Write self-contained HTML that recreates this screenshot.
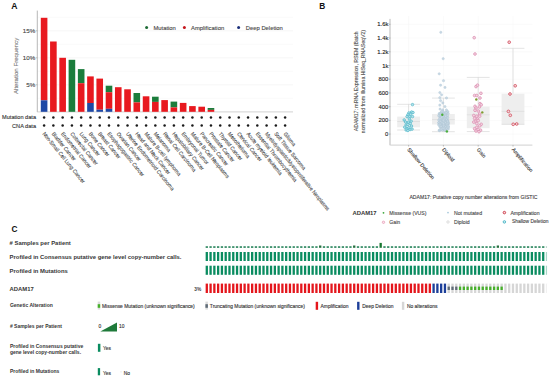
<!DOCTYPE html>
<html><head><meta charset="utf-8"><style>
html,body{margin:0;padding:0;background:#fff;}
body{width:550px;height:379px;overflow:hidden;}
svg{display:block;}
text{font-family:"Liberation Sans",sans-serif;}
</style></head><body>
<svg width="550" height="379" viewBox="0 0 550 379">
<rect width="550" height="379" fill="#fff"/>
<text x="11.2" y="9.4" font-size="8.6" fill="#111" text-anchor="start" font-weight="bold" >A</text>
<line x1="37.3" y1="17.3" x2="293" y2="17.3" stroke="#f5f5f5" stroke-width="0.5" />
<line x1="37.3" y1="30.8" x2="293" y2="30.8" stroke="#eeeeee" stroke-width="0.5" />
<line x1="37.3" y1="44.3" x2="293" y2="44.3" stroke="#f5f5f5" stroke-width="0.5" />
<line x1="37.3" y1="57.8" x2="293" y2="57.8" stroke="#eeeeee" stroke-width="0.5" />
<line x1="37.3" y1="71.3" x2="293" y2="71.3" stroke="#f5f5f5" stroke-width="0.5" />
<line x1="37.3" y1="84.8" x2="293" y2="84.8" stroke="#eeeeee" stroke-width="0.5" />
<line x1="37.3" y1="98.3" x2="293" y2="98.3" stroke="#f5f5f5" stroke-width="0.5" />
<line x1="37.3" y1="10.6" x2="37.3" y2="112.1" stroke="#9a9a9a" stroke-width="0.7" />
<line x1="37.3" y1="111.9" x2="293" y2="111.9" stroke="#c8c8c8" stroke-width="0.8" />
<line x1="35.6" y1="30.8" x2="37.3" y2="30.8" stroke="#9a9a9a" stroke-width="0.6" />
<text x="35.2" y="33.4" font-size="6.2" fill="#484848" text-anchor="end" stroke="#484848" stroke-width="0.12" >15%</text>
<line x1="35.6" y1="57.8" x2="37.3" y2="57.8" stroke="#9a9a9a" stroke-width="0.6" />
<text x="35.2" y="60.4" font-size="6.2" fill="#484848" text-anchor="end" stroke="#484848" stroke-width="0.12" >10%</text>
<line x1="35.6" y1="84.8" x2="37.3" y2="84.8" stroke="#9a9a9a" stroke-width="0.6" />
<text x="35.2" y="87.4" font-size="6.2" fill="#484848" text-anchor="end" stroke="#484848" stroke-width="0.12" >5%</text>
<text x="0" y="0" font-size="6.1" fill="#7a7a7a" text-anchor="middle" stroke="#7a7a7a" stroke-width="0.12" transform="translate(17.8,65.9) rotate(-90)">Alteration Frequency</text>
<circle cx="146.60" cy="27.60" r="1.5" fill="#1d6b35" stroke="none" stroke-width="0.5"/>
<text x="153.4" y="29.7" font-size="5.85" fill="#484848" text-anchor="start" stroke="#484848" stroke-width="0.12" >Mutation</text>
<circle cx="184.40" cy="27.60" r="1.5" fill="#c4161c" stroke="none" stroke-width="0.5"/>
<text x="191.0" y="29.7" font-size="5.85" fill="#484848" text-anchor="start" stroke="#484848" stroke-width="0.12" >Amplification</text>
<circle cx="238.60" cy="27.60" r="1.5" fill="#1b2f7a" stroke="none" stroke-width="0.5"/>
<text x="245.8" y="29.7" font-size="5.85" fill="#484848" text-anchor="start" stroke="#484848" stroke-width="0.12" >Deep Deletion</text>
<rect x="40.80" y="17.80" width="6.60" height="82.50" fill="#e8191f" />
<rect x="40.80" y="100.30" width="6.60" height="11.50" fill="#1e48a5" />
<rect x="50.07" y="41.50" width="6.60" height="70.30" fill="#e8191f" />
<rect x="59.34" y="57.80" width="6.60" height="54.00" fill="#e8191f" />
<rect x="68.61" y="59.80" width="6.60" height="52.00" fill="#1b7d3c" />
<rect x="77.88" y="69.10" width="6.60" height="14.10" fill="#1b7d3c" />
<rect x="77.88" y="83.20" width="6.60" height="28.60" fill="#e8191f" />
<rect x="87.15" y="76.40" width="6.60" height="26.60" fill="#e8191f" />
<rect x="87.15" y="103.00" width="6.60" height="8.80" fill="#1e48a5" />
<rect x="96.42" y="78.60" width="6.60" height="31.10" fill="#e8191f" />
<rect x="96.42" y="109.70" width="6.60" height="2.10" fill="#1e48a5" />
<rect x="105.69" y="85.70" width="6.60" height="6.50" fill="#1b7d3c" />
<rect x="105.69" y="92.20" width="6.60" height="16.60" fill="#e8191f" />
<rect x="105.69" y="108.80" width="6.60" height="3.00" fill="#1e48a5" />
<rect x="114.96" y="87.20" width="6.60" height="24.60" fill="#e8191f" />
<rect x="124.23" y="89.30" width="6.60" height="22.50" fill="#e8191f" />
<rect x="133.50" y="93.00" width="6.60" height="9.40" fill="#1b7d3c" />
<rect x="133.50" y="102.40" width="6.60" height="9.40" fill="#e8191f" />
<rect x="142.77" y="96.30" width="6.60" height="15.50" fill="#e8191f" />
<rect x="152.04" y="96.70" width="6.60" height="5.20" fill="#1b7d3c" />
<rect x="152.04" y="101.90" width="6.60" height="9.90" fill="#e8191f" />
<rect x="161.31" y="100.10" width="6.60" height="11.70" fill="#e8191f" />
<rect x="170.58" y="101.60" width="6.60" height="5.80" fill="#1b7d3c" />
<rect x="170.58" y="107.40" width="6.60" height="4.40" fill="#e8191f" />
<rect x="179.85" y="102.90" width="6.60" height="8.90" fill="#e8191f" />
<rect x="189.12" y="106.10" width="6.60" height="5.70" fill="#e8191f" />
<rect x="198.39" y="106.70" width="6.60" height="5.10" fill="#e8191f" />
<rect x="207.66" y="108.00" width="6.60" height="1.90" fill="#1b7d3c" />
<rect x="207.66" y="109.90" width="6.60" height="1.90" fill="#e8191f" />
<text x="36" y="119.2" font-size="5.6" fill="#333" text-anchor="end" stroke="#333" stroke-width="0.12" >Mutation data</text>
<text x="36" y="127.6" font-size="5.6" fill="#333" text-anchor="end" stroke="#333" stroke-width="0.12" >CNA data</text>
<circle cx="44.10" cy="117.40" r="1.25" fill="#1a1a1a" stroke="none" stroke-width="0.5"/>
<circle cx="44.10" cy="125.60" r="1.25" fill="#1a1a1a" stroke="none" stroke-width="0.5"/>
<text x="0" y="0" font-size="5.5" fill="#4d4d4d" text-anchor="start" stroke="#4d4d4d" stroke-width="0.12" textLength="63.99" lengthAdjust="spacingAndGlyphs" transform="translate(42.20,133.9) rotate(51)">Non-Small Cell Lung Cancer</text>
<circle cx="53.37" cy="117.40" r="1.25" fill="#1a1a1a" stroke="none" stroke-width="0.5"/>
<circle cx="53.37" cy="125.60" r="1.25" fill="#1a1a1a" stroke="none" stroke-width="0.5"/>
<text x="0" y="0" font-size="5.5" fill="#4d4d4d" text-anchor="start" stroke="#4d4d4d" stroke-width="0.12" textLength="35.09" lengthAdjust="spacingAndGlyphs" transform="translate(51.47,133.9) rotate(51)">Bladder Cancer</text>
<circle cx="62.64" cy="117.40" r="1.25" fill="#1a1a1a" stroke="none" stroke-width="0.5"/>
<circle cx="62.64" cy="125.60" r="1.25" fill="#1a1a1a" stroke="none" stroke-width="0.5"/>
<text x="0" y="0" font-size="5.5" fill="#4d4d4d" text-anchor="start" stroke="#4d4d4d" stroke-width="0.12" textLength="44.63" lengthAdjust="spacingAndGlyphs" transform="translate(60.74,133.9) rotate(51)">Endometrial Cancer</text>
<circle cx="71.91" cy="117.40" r="1.25" fill="#1a1a1a" stroke="none" stroke-width="0.5"/>
<circle cx="71.91" cy="125.60" r="1.25" fill="#1a1a1a" stroke="none" stroke-width="0.5"/>
<text x="0" y="0" font-size="5.5" fill="#4d4d4d" text-anchor="start" stroke="#4d4d4d" stroke-width="0.12" textLength="40.41" lengthAdjust="spacingAndGlyphs" transform="translate(70.01,133.9) rotate(51)">Colorectal Cancer</text>
<circle cx="81.18" cy="117.40" r="1.25" fill="#1a1a1a" stroke="none" stroke-width="0.5"/>
<circle cx="81.18" cy="125.60" r="1.25" fill="#1a1a1a" stroke="none" stroke-width="0.5"/>
<text x="0" y="0" font-size="5.5" fill="#4d4d4d" text-anchor="start" stroke="#4d4d4d" stroke-width="0.12" textLength="28.91" lengthAdjust="spacingAndGlyphs" transform="translate(79.28,133.9) rotate(51)">Lung Cancer</text>
<circle cx="90.45" cy="117.40" r="1.25" fill="#1a1a1a" stroke="none" stroke-width="0.5"/>
<circle cx="90.45" cy="125.60" r="1.25" fill="#1a1a1a" stroke="none" stroke-width="0.5"/>
<text x="0" y="0" font-size="5.5" fill="#4d4d4d" text-anchor="start" stroke="#4d4d4d" stroke-width="0.12" textLength="29.47" lengthAdjust="spacingAndGlyphs" transform="translate(88.55,133.9) rotate(51)">Bone Cancer</text>
<circle cx="99.72" cy="117.40" r="1.25" fill="#1a1a1a" stroke="none" stroke-width="0.5"/>
<circle cx="99.72" cy="125.60" r="1.25" fill="#1a1a1a" stroke="none" stroke-width="0.5"/>
<text x="0" y="0" font-size="5.5" fill="#4d4d4d" text-anchor="start" stroke="#4d4d4d" stroke-width="0.12" textLength="32.28" lengthAdjust="spacingAndGlyphs" transform="translate(97.82,133.9) rotate(51)">Breast Cancer</text>
<circle cx="108.99" cy="117.40" r="1.25" fill="#1a1a1a" stroke="none" stroke-width="0.5"/>
<circle cx="108.99" cy="125.60" r="1.25" fill="#1a1a1a" stroke="none" stroke-width="0.5"/>
<text x="0" y="0" font-size="5.5" fill="#4d4d4d" text-anchor="start" stroke="#4d4d4d" stroke-width="0.12" textLength="55.30" lengthAdjust="spacingAndGlyphs" transform="translate(107.09,133.9) rotate(51)">Esophagogastric Cancer</text>
<circle cx="118.26" cy="117.40" r="1.25" fill="#1a1a1a" stroke="none" stroke-width="0.5"/>
<circle cx="118.26" cy="125.60" r="1.25" fill="#1a1a1a" stroke="none" stroke-width="0.5"/>
<text x="0" y="0" font-size="5.5" fill="#4d4d4d" text-anchor="start" stroke="#4d4d4d" stroke-width="0.12" textLength="35.36" lengthAdjust="spacingAndGlyphs" transform="translate(116.36,133.9) rotate(51)">Ovarian Cancer</text>
<circle cx="127.53" cy="117.40" r="1.25" fill="#1a1a1a" stroke="none" stroke-width="0.5"/>
<circle cx="127.53" cy="125.60" r="1.25" fill="#1a1a1a" stroke="none" stroke-width="0.5"/>
<text x="0" y="0" font-size="5.5" fill="#4d4d4d" text-anchor="start" stroke="#4d4d4d" stroke-width="0.12" textLength="73.25" lengthAdjust="spacingAndGlyphs" transform="translate(125.63,133.9) rotate(51)">Uterine Endometrioid Carcinoma</text>
<circle cx="136.80" cy="117.40" r="1.25" fill="#1a1a1a" stroke="none" stroke-width="0.5"/>
<circle cx="136.80" cy="125.60" r="1.25" fill="#1a1a1a" stroke="none" stroke-width="0.5"/>
<text x="0" y="0" font-size="5.5" fill="#4d4d4d" text-anchor="start" stroke="#4d4d4d" stroke-width="0.12" textLength="52.49" lengthAdjust="spacingAndGlyphs" transform="translate(134.90,133.9) rotate(51)">Head and Neck Cancer</text>
<circle cx="146.07" cy="117.40" r="1.25" fill="#1a1a1a" stroke="none" stroke-width="0.5"/>
<circle cx="146.07" cy="125.60" r="1.25" fill="#1a1a1a" stroke="none" stroke-width="0.5"/>
<text x="0" y="0" font-size="5.5" fill="#4d4d4d" text-anchor="start" stroke="#4d4d4d" stroke-width="0.12" textLength="54.44" lengthAdjust="spacingAndGlyphs" transform="translate(144.17,133.9) rotate(51)">Mature B-cell lymphoma</text>
<circle cx="155.34" cy="117.40" r="1.25" fill="#1a1a1a" stroke="none" stroke-width="0.5"/>
<circle cx="155.34" cy="125.60" r="1.25" fill="#1a1a1a" stroke="none" stroke-width="0.5"/>
<text x="0" y="0" font-size="5.5" fill="#4d4d4d" text-anchor="start" stroke="#4d4d4d" stroke-width="0.12" textLength="23.58" lengthAdjust="spacingAndGlyphs" transform="translate(153.44,133.9) rotate(51)">Melanoma</text>
<circle cx="164.61" cy="117.40" r="1.25" fill="#1a1a1a" stroke="none" stroke-width="0.5"/>
<circle cx="164.61" cy="125.60" r="1.25" fill="#1a1a1a" stroke="none" stroke-width="0.5"/>
<text x="0" y="0" font-size="5.5" fill="#4d4d4d" text-anchor="start" stroke="#4d4d4d" stroke-width="0.12" textLength="49.11" lengthAdjust="spacingAndGlyphs" transform="translate(162.71,133.9) rotate(51)">Renal Cell Carcinoma</text>
<circle cx="173.88" cy="117.40" r="1.25" fill="#1a1a1a" stroke="none" stroke-width="0.5"/>
<circle cx="173.88" cy="125.60" r="1.25" fill="#1a1a1a" stroke="none" stroke-width="0.5"/>
<text x="0" y="0" font-size="5.5" fill="#4d4d4d" text-anchor="start" stroke="#4d4d4d" stroke-width="0.12" textLength="47.15" lengthAdjust="spacingAndGlyphs" transform="translate(171.98,133.9) rotate(51)">Hepatobiliary Cancer</text>
<circle cx="183.15" cy="117.40" r="1.25" fill="#1a1a1a" stroke="none" stroke-width="0.5"/>
<circle cx="183.15" cy="125.60" r="1.25" fill="#1a1a1a" stroke="none" stroke-width="0.5"/>
<text x="0" y="0" font-size="5.5" fill="#4d4d4d" text-anchor="start" stroke="#4d4d4d" stroke-width="0.12" textLength="39.85" lengthAdjust="spacingAndGlyphs" transform="translate(181.25,133.9) rotate(51)">Embryonal Tumor</text>
<circle cx="192.42" cy="117.40" r="1.25" fill="#1a1a1a" stroke="none" stroke-width="0.5"/>
<circle cx="192.42" cy="125.60" r="1.25" fill="#1a1a1a" stroke="none" stroke-width="0.5"/>
<text x="0" y="0" font-size="5.5" fill="#4d4d4d" text-anchor="start" stroke="#4d4d4d" stroke-width="0.12" textLength="57.53" lengthAdjust="spacingAndGlyphs" transform="translate(190.52,133.9) rotate(51)">Mature B-Cell Neoplasms</text>
<circle cx="201.69" cy="117.40" r="1.25" fill="#1a1a1a" stroke="none" stroke-width="0.5"/>
<circle cx="201.69" cy="125.60" r="1.25" fill="#1a1a1a" stroke="none" stroke-width="0.5"/>
<text x="0" y="0" font-size="5.5" fill="#4d4d4d" text-anchor="start" stroke="#4d4d4d" stroke-width="0.12" textLength="41.54" lengthAdjust="spacingAndGlyphs" transform="translate(199.79,133.9) rotate(51)">Pancreatic Cancer</text>
<circle cx="210.96" cy="117.40" r="1.25" fill="#1a1a1a" stroke="none" stroke-width="0.5"/>
<circle cx="210.96" cy="125.60" r="1.25" fill="#1a1a1a" stroke="none" stroke-width="0.5"/>
<text x="0" y="0" font-size="5.5" fill="#4d4d4d" text-anchor="start" stroke="#4d4d4d" stroke-width="0.12" textLength="36.49" lengthAdjust="spacingAndGlyphs" transform="translate(209.06,133.9) rotate(51)">Prostate Cancer</text>
<circle cx="220.23" cy="117.40" r="1.25" fill="#1a1a1a" stroke="none" stroke-width="0.5"/>
<circle cx="220.23" cy="125.60" r="1.25" fill="#1a1a1a" stroke="none" stroke-width="0.5"/>
<text x="0" y="0" font-size="5.5" fill="#4d4d4d" text-anchor="start" stroke="#4d4d4d" stroke-width="0.12" textLength="34.52" lengthAdjust="spacingAndGlyphs" transform="translate(218.33,133.9) rotate(51)">Thyroid Cancer</text>
<circle cx="229.50" cy="117.40" r="1.25" fill="#1a1a1a" stroke="none" stroke-width="0.5"/>
<circle cx="229.50" cy="125.60" r="1.25" fill="#1a1a1a" stroke="none" stroke-width="0.5"/>
<text x="0" y="0" font-size="5.5" fill="#4d4d4d" text-anchor="start" stroke="#4d4d4d" stroke-width="0.12" textLength="31.43" lengthAdjust="spacingAndGlyphs" transform="translate(227.60,133.9) rotate(51)">Mesothelioma</text>
<circle cx="238.77" cy="117.40" r="1.25" fill="#1a1a1a" stroke="none" stroke-width="0.5"/>
<circle cx="238.77" cy="125.60" r="1.25" fill="#1a1a1a" stroke="none" stroke-width="0.5"/>
<text x="0" y="0" font-size="5.5" fill="#4d4d4d" text-anchor="start" stroke="#4d4d4d" stroke-width="0.12" textLength="35.92" lengthAdjust="spacingAndGlyphs" transform="translate(236.87,133.9) rotate(51)">Cervical Cancer</text>
<circle cx="248.04" cy="117.40" r="1.25" fill="#1a1a1a" stroke="none" stroke-width="0.5"/>
<circle cx="248.04" cy="125.60" r="1.25" fill="#1a1a1a" stroke="none" stroke-width="0.5"/>
<text x="0" y="0" font-size="5.5" fill="#4d4d4d" text-anchor="start" stroke="#4d4d4d" stroke-width="0.12" textLength="53.33" lengthAdjust="spacingAndGlyphs" transform="translate(246.14,133.9) rotate(51)">Acute myeloid leukemia</text>
<circle cx="257.31" cy="117.40" r="1.25" fill="#1a1a1a" stroke="none" stroke-width="0.5"/>
<circle cx="257.31" cy="125.60" r="1.25" fill="#1a1a1a" stroke="none" stroke-width="0.5"/>
<text x="0" y="0" font-size="5.5" fill="#4d4d4d" text-anchor="start" stroke="#4d4d4d" stroke-width="0.12" textLength="62.21" lengthAdjust="spacingAndGlyphs" transform="translate(255.41,133.9) rotate(51)">Essential Thrombocythemia</text>
<circle cx="266.58" cy="117.40" r="1.25" fill="#1a1a1a" stroke="none" stroke-width="0.5"/>
<circle cx="266.58" cy="125.60" r="1.25" fill="#1a1a1a" stroke="none" stroke-width="0.5"/>
<text x="0" y="0" font-size="5.5" fill="#4d4d4d" text-anchor="start" stroke="#4d4d4d" stroke-width="0.12" textLength="99.19" lengthAdjust="spacingAndGlyphs" transform="translate(264.68,133.9) rotate(51)">Myelodysplastic/Myeloproliferative Neoplasms</text>
<circle cx="275.85" cy="117.40" r="1.25" fill="#1a1a1a" stroke="none" stroke-width="0.5"/>
<circle cx="275.85" cy="125.60" r="1.25" fill="#1a1a1a" stroke="none" stroke-width="0.5"/>
<text x="0" y="0" font-size="5.5" fill="#4d4d4d" text-anchor="start" stroke="#4d4d4d" stroke-width="0.12" textLength="46.59" lengthAdjust="spacingAndGlyphs" transform="translate(273.95,133.9) rotate(51)">Soft Tissue Sarcoma</text>
<circle cx="285.12" cy="117.40" r="1.25" fill="#1a1a1a" stroke="none" stroke-width="0.5"/>
<circle cx="285.12" cy="125.60" r="1.25" fill="#1a1a1a" stroke="none" stroke-width="0.5"/>
<text x="0" y="0" font-size="5.5" fill="#4d4d4d" text-anchor="start" stroke="#4d4d4d" stroke-width="0.12" textLength="16.00" lengthAdjust="spacingAndGlyphs" transform="translate(283.22,133.9) rotate(51)">Glioma</text>
<text x="319.2" y="9.0" font-size="8.3" fill="#111" text-anchor="start" font-weight="bold" >B</text>
<line x1="390.0" y1="134.1" x2="532.4" y2="134.1" stroke="#f4f4f4" stroke-width="0.5" />
<line x1="390.0" y1="120.38" x2="532.4" y2="120.38" stroke="#f4f4f4" stroke-width="0.5" />
<line x1="390.0" y1="106.66" x2="532.4" y2="106.66" stroke="#f4f4f4" stroke-width="0.5" />
<line x1="390.0" y1="92.94" x2="532.4" y2="92.94" stroke="#f4f4f4" stroke-width="0.5" />
<line x1="390.0" y1="79.22" x2="532.4" y2="79.22" stroke="#f4f4f4" stroke-width="0.5" />
<line x1="390.0" y1="65.5" x2="532.4" y2="65.5" stroke="#f4f4f4" stroke-width="0.5" />
<line x1="390.0" y1="51.78" x2="532.4" y2="51.78" stroke="#f4f4f4" stroke-width="0.5" />
<line x1="390.0" y1="38.06" x2="532.4" y2="38.06" stroke="#f4f4f4" stroke-width="0.5" />
<line x1="390.0" y1="24.34" x2="532.4" y2="24.34" stroke="#f4f4f4" stroke-width="0.5" />
<line x1="408.6" y1="16" x2="408.6" y2="145" stroke="#f4f4f4" stroke-width="0.5" />
<line x1="443.4" y1="16" x2="443.4" y2="145" stroke="#f4f4f4" stroke-width="0.5" />
<line x1="478.2" y1="16" x2="478.2" y2="145" stroke="#f4f4f4" stroke-width="0.5" />
<line x1="513.0" y1="16" x2="513.0" y2="145" stroke="#f4f4f4" stroke-width="0.5" />
<line x1="390.0" y1="18.9" x2="390.0" y2="145.3" stroke="#8c8c8c" stroke-width="0.6" />
<line x1="390.4" y1="145.1" x2="532.4" y2="145.1" stroke="#bdbdbd" stroke-width="0.7" />
<line x1="388.8" y1="134.1" x2="390.4" y2="134.1" stroke="#888" stroke-width="0.5" />
<text x="388.4" y="136.1" font-size="5.9" fill="#222" text-anchor="end" stroke="#222" stroke-width="0.12" >0</text>
<line x1="388.8" y1="120.38" x2="390.4" y2="120.38" stroke="#888" stroke-width="0.5" />
<text x="388.4" y="122.38" font-size="5.9" fill="#222" text-anchor="end" stroke="#222" stroke-width="0.12" >200</text>
<line x1="388.8" y1="106.66" x2="390.4" y2="106.66" stroke="#888" stroke-width="0.5" />
<text x="388.4" y="108.66" font-size="5.9" fill="#222" text-anchor="end" stroke="#222" stroke-width="0.12" >400</text>
<line x1="388.8" y1="92.94" x2="390.4" y2="92.94" stroke="#888" stroke-width="0.5" />
<text x="388.4" y="94.94" font-size="5.9" fill="#222" text-anchor="end" stroke="#222" stroke-width="0.12" >600</text>
<line x1="388.8" y1="79.22" x2="390.4" y2="79.22" stroke="#888" stroke-width="0.5" />
<text x="388.4" y="81.22" font-size="5.9" fill="#222" text-anchor="end" stroke="#222" stroke-width="0.12" >800</text>
<line x1="388.8" y1="65.5" x2="390.4" y2="65.5" stroke="#888" stroke-width="0.5" />
<text x="388.4" y="67.5" font-size="5.9" fill="#222" text-anchor="end" stroke="#222" stroke-width="0.12" >1k</text>
<line x1="388.8" y1="51.78" x2="390.4" y2="51.78" stroke="#888" stroke-width="0.5" />
<text x="388.4" y="53.78" font-size="5.9" fill="#222" text-anchor="end" stroke="#222" stroke-width="0.12" >1.2k</text>
<line x1="388.8" y1="38.06" x2="390.4" y2="38.06" stroke="#888" stroke-width="0.5" />
<text x="388.4" y="40.06" font-size="5.9" fill="#222" text-anchor="end" stroke="#222" stroke-width="0.12" >1.4k</text>
<line x1="388.8" y1="24.34" x2="390.4" y2="24.34" stroke="#888" stroke-width="0.5" />
<text x="388.4" y="26.34" font-size="5.9" fill="#222" text-anchor="end" stroke="#222" stroke-width="0.12" >1.6k</text>
<line x1="408.6" y1="145.1" x2="408.6" y2="146.6" stroke="#888" stroke-width="0.5" />
<line x1="443.4" y1="145.1" x2="443.4" y2="146.6" stroke="#888" stroke-width="0.5" />
<line x1="478.2" y1="145.1" x2="478.2" y2="146.6" stroke="#888" stroke-width="0.5" />
<line x1="513.0" y1="145.1" x2="513.0" y2="146.6" stroke="#888" stroke-width="0.5" />
<text x="0" y="0" font-size="5.2" fill="#505050" text-anchor="middle" stroke="#505050" stroke-width="0.12" transform="translate(357.8,81.3) rotate(-90)">ADAM17: mRNA Expression, RSEM (Batch</text>
<text x="0" y="0" font-size="5.2" fill="#505050" text-anchor="middle" stroke="#505050" stroke-width="0.12" transform="translate(365.4,81.6) rotate(-90)">normalized from Illumina HiSeq_RNASeqV2)</text>
<rect x="397.20" y="116.60" width="22.80" height="10.70" fill="#eeeeee" />
<line x1="397.20000000000005" y1="121.5" x2="420.0" y2="121.5" stroke="#d6d6d6" stroke-width="0.6" />
<line x1="408.6" y1="104.3" x2="408.6" y2="116.6" stroke="#d0d0d0" stroke-width="0.6" />
<line x1="408.6" y1="127.3" x2="408.6" y2="130.0" stroke="#d0d0d0" stroke-width="0.6" />
<line x1="397.20000000000005" y1="104.3" x2="420.0" y2="104.3" stroke="#d0d0d0" stroke-width="0.6" />
<line x1="397.20000000000005" y1="130.0" x2="420.0" y2="130.0" stroke="#d0d0d0" stroke-width="0.6" />
<rect x="432.00" y="114.00" width="22.80" height="10.50" fill="#eeeeee" />
<line x1="432.0" y1="119.6" x2="454.79999999999995" y2="119.6" stroke="#d6d6d6" stroke-width="0.6" />
<line x1="443.4" y1="98.1" x2="443.4" y2="114.0" stroke="#d0d0d0" stroke-width="0.6" />
<line x1="443.4" y1="124.5" x2="443.4" y2="131.7" stroke="#d0d0d0" stroke-width="0.6" />
<line x1="432.0" y1="98.1" x2="454.79999999999995" y2="98.1" stroke="#d0d0d0" stroke-width="0.6" />
<line x1="432.0" y1="131.7" x2="454.79999999999995" y2="131.7" stroke="#d0d0d0" stroke-width="0.6" />
<rect x="466.80" y="106.70" width="22.80" height="21.50" fill="#eeeeee" />
<line x1="466.8" y1="114.8" x2="489.59999999999997" y2="114.8" stroke="#d6d6d6" stroke-width="0.6" />
<line x1="478.2" y1="77.4" x2="478.2" y2="106.7" stroke="#d0d0d0" stroke-width="0.6" />
<line x1="478.2" y1="128.2" x2="478.2" y2="131.6" stroke="#d0d0d0" stroke-width="0.6" />
<line x1="466.8" y1="77.4" x2="489.59999999999997" y2="77.4" stroke="#d0d0d0" stroke-width="0.6" />
<line x1="466.8" y1="131.6" x2="489.59999999999997" y2="131.6" stroke="#d0d0d0" stroke-width="0.6" />
<rect x="501.60" y="93.70" width="22.80" height="30.60" fill="#eeeeee" />
<line x1="501.6" y1="111.3" x2="524.4" y2="111.3" stroke="#d6d6d6" stroke-width="0.6" />
<line x1="513.0" y1="48.3" x2="513.0" y2="93.7" stroke="#d0d0d0" stroke-width="0.6" />
<line x1="513.0" y1="124.3" x2="513.0" y2="124.3" stroke="#d0d0d0" stroke-width="0.6" />
<line x1="501.6" y1="48.3" x2="524.4" y2="48.3" stroke="#d0d0d0" stroke-width="0.6" />
<line x1="501.6" y1="124.3" x2="524.4" y2="124.3" stroke="#d0d0d0" stroke-width="0.6" />
<circle cx="412.50" cy="104.60" r="1.25" fill="#b5e1ea" stroke="#4fb8c9" stroke-width="0.7"/>
<circle cx="408.90" cy="112.90" r="1.25" fill="#b5e1ea" stroke="#4fb8c9" stroke-width="0.7"/>
<circle cx="411.60" cy="112.00" r="1.25" fill="#b5e1ea" stroke="#4fb8c9" stroke-width="0.7"/>
<circle cx="413.00" cy="112.50" r="1.25" fill="#b5e1ea" stroke="#4fb8c9" stroke-width="0.7"/>
<circle cx="407.90" cy="114.80" r="1.25" fill="#b5e1ea" stroke="#4fb8c9" stroke-width="0.7"/>
<circle cx="410.70" cy="114.30" r="1.25" fill="#b5e1ea" stroke="#4fb8c9" stroke-width="0.7"/>
<circle cx="407.00" cy="116.60" r="1.25" fill="#b5e1ea" stroke="#4fb8c9" stroke-width="0.7"/>
<circle cx="409.80" cy="116.60" r="1.25" fill="#b5e1ea" stroke="#4fb8c9" stroke-width="0.7"/>
<circle cx="412.50" cy="116.60" r="1.25" fill="#b5e1ea" stroke="#4fb8c9" stroke-width="0.7"/>
<circle cx="404.20" cy="119.90" r="1.25" fill="#b5e1ea" stroke="#4fb8c9" stroke-width="0.7"/>
<circle cx="409.30" cy="118.90" r="1.25" fill="#b5e1ea" stroke="#4fb8c9" stroke-width="0.7"/>
<circle cx="411.20" cy="121.20" r="1.25" fill="#b5e1ea" stroke="#4fb8c9" stroke-width="0.7"/>
<circle cx="408.40" cy="122.20" r="1.25" fill="#b5e1ea" stroke="#4fb8c9" stroke-width="0.7"/>
<circle cx="410.20" cy="123.50" r="1.25" fill="#b5e1ea" stroke="#4fb8c9" stroke-width="0.7"/>
<circle cx="406.10" cy="124.90" r="1.25" fill="#b5e1ea" stroke="#4fb8c9" stroke-width="0.7"/>
<circle cx="407.90" cy="124.50" r="1.25" fill="#b5e1ea" stroke="#4fb8c9" stroke-width="0.7"/>
<circle cx="404.70" cy="127.20" r="1.25" fill="#b5e1ea" stroke="#4fb8c9" stroke-width="0.7"/>
<circle cx="407.00" cy="128.60" r="1.25" fill="#b5e1ea" stroke="#4fb8c9" stroke-width="0.7"/>
<circle cx="408.90" cy="127.70" r="1.25" fill="#b5e1ea" stroke="#4fb8c9" stroke-width="0.7"/>
<circle cx="410.20" cy="129.50" r="1.25" fill="#b5e1ea" stroke="#4fb8c9" stroke-width="0.7"/>
<circle cx="412.10" cy="129.10" r="1.25" fill="#b5e1ea" stroke="#4fb8c9" stroke-width="0.7"/>
<circle cx="406.10" cy="130.00" r="1.25" fill="#b5e1ea" stroke="#4fb8c9" stroke-width="0.7"/>
<circle cx="407.90" cy="130.50" r="1.25" fill="#b5e1ea" stroke="#4fb8c9" stroke-width="0.7"/>
<circle cx="405.50" cy="122.00" r="1.25" fill="#b5e1ea" stroke="#4fb8c9" stroke-width="0.7"/>
<circle cx="411.50" cy="126.00" r="1.25" fill="#b5e1ea" stroke="#4fb8c9" stroke-width="0.7"/>
<circle cx="440.08" cy="119.62" r="1.15" fill="#c8d9e5" stroke="#adc5d4" stroke-width="0.4"/>
<circle cx="439.31" cy="124.15" r="1.15" fill="#c8d9e5" stroke="#adc5d4" stroke-width="0.4"/>
<circle cx="442.18" cy="122.72" r="1.15" fill="#c8d9e5" stroke="#adc5d4" stroke-width="0.4"/>
<circle cx="443.57" cy="113.38" r="1.15" fill="#c8d9e5" stroke="#adc5d4" stroke-width="0.4"/>
<circle cx="442.85" cy="112.48" r="1.15" fill="#c8d9e5" stroke="#adc5d4" stroke-width="0.4"/>
<circle cx="439.49" cy="113.83" r="1.15" fill="#c8d9e5" stroke="#adc5d4" stroke-width="0.4"/>
<circle cx="446.70" cy="121.19" r="1.15" fill="#c8d9e5" stroke="#adc5d4" stroke-width="0.4"/>
<circle cx="440.79" cy="115.49" r="1.15" fill="#c8d9e5" stroke="#adc5d4" stroke-width="0.4"/>
<circle cx="447.89" cy="123.87" r="1.15" fill="#c8d9e5" stroke="#adc5d4" stroke-width="0.4"/>
<circle cx="442.49" cy="123.25" r="1.15" fill="#c8d9e5" stroke="#adc5d4" stroke-width="0.4"/>
<circle cx="439.06" cy="130.40" r="1.15" fill="#c8d9e5" stroke="#adc5d4" stroke-width="0.4"/>
<circle cx="441.44" cy="127.22" r="1.15" fill="#c8d9e5" stroke="#adc5d4" stroke-width="0.4"/>
<circle cx="439.75" cy="116.02" r="1.15" fill="#c8d9e5" stroke="#adc5d4" stroke-width="0.4"/>
<circle cx="446.60" cy="119.36" r="1.15" fill="#c8d9e5" stroke="#adc5d4" stroke-width="0.4"/>
<circle cx="444.30" cy="116.89" r="1.15" fill="#c8d9e5" stroke="#adc5d4" stroke-width="0.4"/>
<circle cx="442.25" cy="124.00" r="1.15" fill="#c8d9e5" stroke="#adc5d4" stroke-width="0.4"/>
<circle cx="439.22" cy="122.88" r="1.15" fill="#c8d9e5" stroke="#adc5d4" stroke-width="0.4"/>
<circle cx="440.62" cy="113.44" r="1.15" fill="#c8d9e5" stroke="#adc5d4" stroke-width="0.4"/>
<circle cx="442.79" cy="124.51" r="1.15" fill="#c8d9e5" stroke="#adc5d4" stroke-width="0.4"/>
<circle cx="444.34" cy="119.46" r="1.15" fill="#c8d9e5" stroke="#adc5d4" stroke-width="0.4"/>
<circle cx="441.54" cy="121.60" r="1.15" fill="#c8d9e5" stroke="#adc5d4" stroke-width="0.4"/>
<circle cx="445.45" cy="126.11" r="1.15" fill="#c8d9e5" stroke="#adc5d4" stroke-width="0.4"/>
<circle cx="444.23" cy="118.20" r="1.15" fill="#c8d9e5" stroke="#adc5d4" stroke-width="0.4"/>
<circle cx="447.18" cy="122.58" r="1.15" fill="#c8d9e5" stroke="#adc5d4" stroke-width="0.4"/>
<circle cx="441.42" cy="125.16" r="1.15" fill="#c8d9e5" stroke="#adc5d4" stroke-width="0.4"/>
<circle cx="439.76" cy="130.59" r="1.15" fill="#c8d9e5" stroke="#adc5d4" stroke-width="0.4"/>
<circle cx="446.02" cy="121.10" r="1.15" fill="#c8d9e5" stroke="#adc5d4" stroke-width="0.4"/>
<circle cx="443.39" cy="116.21" r="1.15" fill="#c8d9e5" stroke="#adc5d4" stroke-width="0.4"/>
<circle cx="445.15" cy="112.57" r="1.15" fill="#c8d9e5" stroke="#adc5d4" stroke-width="0.4"/>
<circle cx="444.22" cy="125.66" r="1.15" fill="#c8d9e5" stroke="#adc5d4" stroke-width="0.4"/>
<circle cx="441.67" cy="127.55" r="1.15" fill="#c8d9e5" stroke="#adc5d4" stroke-width="0.4"/>
<circle cx="444.42" cy="124.70" r="1.15" fill="#c8d9e5" stroke="#adc5d4" stroke-width="0.4"/>
<circle cx="443.07" cy="123.28" r="1.15" fill="#c8d9e5" stroke="#adc5d4" stroke-width="0.4"/>
<circle cx="447.86" cy="126.88" r="1.15" fill="#c8d9e5" stroke="#adc5d4" stroke-width="0.4"/>
<circle cx="445.11" cy="121.90" r="1.15" fill="#c8d9e5" stroke="#adc5d4" stroke-width="0.4"/>
<circle cx="445.47" cy="113.48" r="1.15" fill="#c8d9e5" stroke="#adc5d4" stroke-width="0.4"/>
<circle cx="448.33" cy="124.10" r="1.15" fill="#c8d9e5" stroke="#adc5d4" stroke-width="0.4"/>
<circle cx="441.39" cy="126.56" r="1.15" fill="#c8d9e5" stroke="#adc5d4" stroke-width="0.4"/>
<circle cx="445.15" cy="120.61" r="1.15" fill="#c8d9e5" stroke="#adc5d4" stroke-width="0.4"/>
<circle cx="443.12" cy="111.66" r="1.15" fill="#c8d9e5" stroke="#adc5d4" stroke-width="0.4"/>
<circle cx="439.75" cy="116.60" r="1.15" fill="#c8d9e5" stroke="#adc5d4" stroke-width="0.4"/>
<circle cx="446.13" cy="113.42" r="1.15" fill="#c8d9e5" stroke="#adc5d4" stroke-width="0.4"/>
<circle cx="441.03" cy="115.64" r="1.15" fill="#c8d9e5" stroke="#adc5d4" stroke-width="0.4"/>
<circle cx="447.14" cy="120.69" r="1.15" fill="#c8d9e5" stroke="#adc5d4" stroke-width="0.4"/>
<circle cx="443.00" cy="114.20" r="1.15" fill="#c8d9e5" stroke="#adc5d4" stroke-width="0.4"/>
<circle cx="447.26" cy="122.90" r="1.15" fill="#c8d9e5" stroke="#adc5d4" stroke-width="0.4"/>
<circle cx="447.07" cy="126.52" r="1.15" fill="#c8d9e5" stroke="#adc5d4" stroke-width="0.4"/>
<circle cx="442.67" cy="118.84" r="1.15" fill="#c8d9e5" stroke="#adc5d4" stroke-width="0.4"/>
<circle cx="447.27" cy="120.19" r="1.15" fill="#c8d9e5" stroke="#adc5d4" stroke-width="0.4"/>
<circle cx="440.08" cy="129.66" r="1.15" fill="#c8d9e5" stroke="#adc5d4" stroke-width="0.4"/>
<circle cx="440.87" cy="116.78" r="1.15" fill="#c8d9e5" stroke="#adc5d4" stroke-width="0.4"/>
<circle cx="443.35" cy="117.99" r="1.15" fill="#c8d9e5" stroke="#adc5d4" stroke-width="0.4"/>
<circle cx="441.17" cy="123.40" r="1.15" fill="#c8d9e5" stroke="#adc5d4" stroke-width="0.4"/>
<circle cx="442.71" cy="110.02" r="1.15" fill="#c8d9e5" stroke="#adc5d4" stroke-width="0.4"/>
<circle cx="444.15" cy="120.36" r="1.15" fill="#c8d9e5" stroke="#adc5d4" stroke-width="0.4"/>
<circle cx="445.37" cy="129.50" r="1.15" fill="#c8d9e5" stroke="#adc5d4" stroke-width="0.4"/>
<circle cx="444.65" cy="122.46" r="1.15" fill="#c8d9e5" stroke="#adc5d4" stroke-width="0.4"/>
<circle cx="439.13" cy="124.46" r="1.15" fill="#c8d9e5" stroke="#adc5d4" stroke-width="0.4"/>
<circle cx="446.24" cy="128.07" r="1.15" fill="#c8d9e5" stroke="#adc5d4" stroke-width="0.4"/>
<circle cx="446.42" cy="127.53" r="1.15" fill="#c8d9e5" stroke="#adc5d4" stroke-width="0.4"/>
<circle cx="442.51" cy="120.71" r="1.15" fill="#c8d9e5" stroke="#adc5d4" stroke-width="0.4"/>
<circle cx="444.82" cy="114.92" r="1.15" fill="#c8d9e5" stroke="#adc5d4" stroke-width="0.4"/>
<circle cx="439.26" cy="113.55" r="1.15" fill="#c8d9e5" stroke="#adc5d4" stroke-width="0.4"/>
<circle cx="440.19" cy="117.49" r="1.15" fill="#c8d9e5" stroke="#adc5d4" stroke-width="0.4"/>
<circle cx="439.12" cy="119.89" r="1.15" fill="#c8d9e5" stroke="#adc5d4" stroke-width="0.4"/>
<circle cx="440.08" cy="109.09" r="1.15" fill="#c8d9e5" stroke="#adc5d4" stroke-width="0.4"/>
<circle cx="442.16" cy="114.86" r="1.15" fill="#c8d9e5" stroke="#adc5d4" stroke-width="0.4"/>
<circle cx="447.17" cy="111.84" r="1.15" fill="#c8d9e5" stroke="#adc5d4" stroke-width="0.4"/>
<circle cx="440.06" cy="123.70" r="1.15" fill="#c8d9e5" stroke="#adc5d4" stroke-width="0.4"/>
<circle cx="442.00" cy="118.35" r="1.15" fill="#c8d9e5" stroke="#adc5d4" stroke-width="0.4"/>
<circle cx="439.80" cy="120.28" r="1.15" fill="#c8d9e5" stroke="#adc5d4" stroke-width="0.4"/>
<circle cx="448.33" cy="127.04" r="1.15" fill="#c8d9e5" stroke="#adc5d4" stroke-width="0.4"/>
<circle cx="443.34" cy="121.78" r="1.15" fill="#c8d9e5" stroke="#adc5d4" stroke-width="0.4"/>
<circle cx="439.60" cy="114.37" r="1.15" fill="#c8d9e5" stroke="#adc5d4" stroke-width="0.4"/>
<circle cx="441.19" cy="119.93" r="1.15" fill="#c8d9e5" stroke="#adc5d4" stroke-width="0.4"/>
<circle cx="440.18" cy="126.68" r="1.15" fill="#c8d9e5" stroke="#adc5d4" stroke-width="0.4"/>
<circle cx="447.92" cy="111.69" r="1.15" fill="#c8d9e5" stroke="#adc5d4" stroke-width="0.4"/>
<circle cx="440.04" cy="122.62" r="1.15" fill="#c8d9e5" stroke="#adc5d4" stroke-width="0.4"/>
<circle cx="438.87" cy="122.82" r="1.15" fill="#c8d9e5" stroke="#adc5d4" stroke-width="0.4"/>
<circle cx="448.19" cy="122.62" r="1.15" fill="#c8d9e5" stroke="#adc5d4" stroke-width="0.4"/>
<circle cx="445.42" cy="127.31" r="1.15" fill="#c8d9e5" stroke="#adc5d4" stroke-width="0.4"/>
<circle cx="442.19" cy="118.52" r="1.15" fill="#c8d9e5" stroke="#adc5d4" stroke-width="0.4"/>
<circle cx="446.16" cy="116.57" r="1.15" fill="#c8d9e5" stroke="#adc5d4" stroke-width="0.4"/>
<circle cx="446.23" cy="122.68" r="1.15" fill="#c8d9e5" stroke="#adc5d4" stroke-width="0.4"/>
<circle cx="440.79" cy="119.72" r="1.15" fill="#c8d9e5" stroke="#adc5d4" stroke-width="0.4"/>
<circle cx="448.25" cy="126.39" r="1.15" fill="#c8d9e5" stroke="#adc5d4" stroke-width="0.4"/>
<circle cx="446.50" cy="127.11" r="1.15" fill="#c8d9e5" stroke="#adc5d4" stroke-width="0.4"/>
<circle cx="445.85" cy="126.50" r="1.15" fill="#c8d9e5" stroke="#adc5d4" stroke-width="0.4"/>
<circle cx="443.67" cy="117.86" r="1.15" fill="#c8d9e5" stroke="#adc5d4" stroke-width="0.4"/>
<circle cx="438.88" cy="120.14" r="1.15" fill="#c8d9e5" stroke="#adc5d4" stroke-width="0.4"/>
<circle cx="441.34" cy="111.98" r="1.15" fill="#c8d9e5" stroke="#adc5d4" stroke-width="0.4"/>
<circle cx="445.39" cy="118.48" r="1.15" fill="#c8d9e5" stroke="#adc5d4" stroke-width="0.4"/>
<circle cx="442.98" cy="129.62" r="1.15" fill="#c8d9e5" stroke="#adc5d4" stroke-width="0.4"/>
<circle cx="448.28" cy="129.01" r="1.15" fill="#c8d9e5" stroke="#adc5d4" stroke-width="0.4"/>
<circle cx="442.17" cy="129.57" r="1.15" fill="#c8d9e5" stroke="#adc5d4" stroke-width="0.4"/>
<circle cx="440.82" cy="117.73" r="1.15" fill="#c8d9e5" stroke="#adc5d4" stroke-width="0.4"/>
<circle cx="440.60" cy="117.24" r="1.15" fill="#c8d9e5" stroke="#adc5d4" stroke-width="0.4"/>
<circle cx="447.42" cy="123.83" r="1.15" fill="#c8d9e5" stroke="#adc5d4" stroke-width="0.4"/>
<circle cx="443.30" cy="126.89" r="1.15" fill="#c8d9e5" stroke="#adc5d4" stroke-width="0.4"/>
<circle cx="446.44" cy="124.17" r="1.15" fill="#c8d9e5" stroke="#adc5d4" stroke-width="0.4"/>
<circle cx="445.07" cy="114.34" r="1.15" fill="#c8d9e5" stroke="#adc5d4" stroke-width="0.4"/>
<circle cx="446.27" cy="128.30" r="1.15" fill="#c8d9e5" stroke="#adc5d4" stroke-width="0.4"/>
<circle cx="443.28" cy="125.45" r="1.15" fill="#c8d9e5" stroke="#adc5d4" stroke-width="0.4"/>
<circle cx="446.33" cy="116.84" r="1.15" fill="#c8d9e5" stroke="#adc5d4" stroke-width="0.4"/>
<circle cx="446.45" cy="119.77" r="1.15" fill="#c8d9e5" stroke="#adc5d4" stroke-width="0.4"/>
<circle cx="442.48" cy="130.19" r="1.15" fill="#c8d9e5" stroke="#adc5d4" stroke-width="0.4"/>
<circle cx="447.88" cy="120.85" r="1.15" fill="#c8d9e5" stroke="#adc5d4" stroke-width="0.4"/>
<circle cx="440.27" cy="125.09" r="1.15" fill="#c8d9e5" stroke="#adc5d4" stroke-width="0.4"/>
<circle cx="440.08" cy="115.58" r="1.15" fill="#c8d9e5" stroke="#adc5d4" stroke-width="0.4"/>
<circle cx="446.50" cy="128.19" r="1.15" fill="#c8d9e5" stroke="#adc5d4" stroke-width="0.4"/>
<circle cx="446.70" cy="116.07" r="1.15" fill="#c8d9e5" stroke="#adc5d4" stroke-width="0.4"/>
<circle cx="445.04" cy="130.59" r="1.15" fill="#c8d9e5" stroke="#adc5d4" stroke-width="0.4"/>
<circle cx="443.98" cy="120.06" r="1.15" fill="#c8d9e5" stroke="#adc5d4" stroke-width="0.4"/>
<circle cx="438.74" cy="115.68" r="1.15" fill="#c8d9e5" stroke="#adc5d4" stroke-width="0.4"/>
<circle cx="444.97" cy="130.16" r="1.15" fill="#c8d9e5" stroke="#adc5d4" stroke-width="0.4"/>
<circle cx="447.75" cy="122.60" r="1.15" fill="#c8d9e5" stroke="#adc5d4" stroke-width="0.4"/>
<circle cx="447.14" cy="121.33" r="1.15" fill="#c8d9e5" stroke="#adc5d4" stroke-width="0.4"/>
<circle cx="440.67" cy="126.63" r="1.15" fill="#c8d9e5" stroke="#adc5d4" stroke-width="0.4"/>
<circle cx="441.47" cy="118.34" r="1.15" fill="#c8d9e5" stroke="#adc5d4" stroke-width="0.4"/>
<circle cx="444.35" cy="118.13" r="1.15" fill="#c8d9e5" stroke="#adc5d4" stroke-width="0.4"/>
<circle cx="442.71" cy="118.49" r="1.15" fill="#c8d9e5" stroke="#adc5d4" stroke-width="0.4"/>
<circle cx="447.52" cy="115.69" r="1.15" fill="#c8d9e5" stroke="#adc5d4" stroke-width="0.4"/>
<circle cx="443.09" cy="120.11" r="1.15" fill="#c8d9e5" stroke="#adc5d4" stroke-width="0.4"/>
<circle cx="447.46" cy="123.33" r="1.15" fill="#c8d9e5" stroke="#adc5d4" stroke-width="0.4"/>
<circle cx="447.59" cy="121.14" r="1.15" fill="#c8d9e5" stroke="#adc5d4" stroke-width="0.4"/>
<circle cx="443.81" cy="122.27" r="1.15" fill="#c8d9e5" stroke="#adc5d4" stroke-width="0.4"/>
<circle cx="438.78" cy="122.56" r="1.15" fill="#c8d9e5" stroke="#adc5d4" stroke-width="0.4"/>
<circle cx="440.39" cy="121.42" r="1.15" fill="#c8d9e5" stroke="#adc5d4" stroke-width="0.4"/>
<circle cx="446.43" cy="109.99" r="1.15" fill="#c8d9e5" stroke="#adc5d4" stroke-width="0.4"/>
<circle cx="443.24" cy="116.70" r="1.15" fill="#c8d9e5" stroke="#adc5d4" stroke-width="0.4"/>
<circle cx="444.05" cy="125.10" r="1.15" fill="#c8d9e5" stroke="#adc5d4" stroke-width="0.4"/>
<circle cx="443.68" cy="119.66" r="1.15" fill="#c8d9e5" stroke="#adc5d4" stroke-width="0.4"/>
<circle cx="446.29" cy="122.98" r="1.15" fill="#c8d9e5" stroke="#adc5d4" stroke-width="0.4"/>
<circle cx="444.09" cy="115.00" r="1.15" fill="#c8d9e5" stroke="#adc5d4" stroke-width="0.4"/>
<circle cx="441.31" cy="118.28" r="1.15" fill="#c8d9e5" stroke="#adc5d4" stroke-width="0.4"/>
<circle cx="443.58" cy="125.77" r="1.15" fill="#c8d9e5" stroke="#adc5d4" stroke-width="0.4"/>
<circle cx="446.05" cy="123.06" r="1.15" fill="#c8d9e5" stroke="#adc5d4" stroke-width="0.4"/>
<circle cx="442.94" cy="128.37" r="1.15" fill="#c8d9e5" stroke="#adc5d4" stroke-width="0.4"/>
<circle cx="443.55" cy="123.69" r="1.15" fill="#c8d9e5" stroke="#adc5d4" stroke-width="0.4"/>
<circle cx="445.39" cy="122.41" r="1.15" fill="#c8d9e5" stroke="#adc5d4" stroke-width="0.4"/>
<circle cx="443.83" cy="121.59" r="1.15" fill="#c8d9e5" stroke="#adc5d4" stroke-width="0.4"/>
<circle cx="447.83" cy="121.95" r="1.15" fill="#c8d9e5" stroke="#adc5d4" stroke-width="0.4"/>
<circle cx="447.19" cy="124.75" r="1.15" fill="#c8d9e5" stroke="#adc5d4" stroke-width="0.4"/>
<circle cx="441.14" cy="129.16" r="1.15" fill="#c8d9e5" stroke="#adc5d4" stroke-width="0.4"/>
<circle cx="447.84" cy="123.03" r="1.15" fill="#c8d9e5" stroke="#adc5d4" stroke-width="0.4"/>
<circle cx="439.94" cy="126.88" r="1.15" fill="#c8d9e5" stroke="#adc5d4" stroke-width="0.4"/>
<circle cx="442.93" cy="115.43" r="1.15" fill="#c8d9e5" stroke="#adc5d4" stroke-width="0.4"/>
<circle cx="440.96" cy="113.92" r="1.15" fill="#c8d9e5" stroke="#adc5d4" stroke-width="0.4"/>
<circle cx="445.16" cy="113.94" r="1.15" fill="#c8d9e5" stroke="#adc5d4" stroke-width="0.4"/>
<circle cx="447.39" cy="125.95" r="1.15" fill="#c8d9e5" stroke="#adc5d4" stroke-width="0.4"/>
<circle cx="445.62" cy="116.27" r="1.15" fill="#c8d9e5" stroke="#adc5d4" stroke-width="0.4"/>
<circle cx="440.00" cy="124.26" r="1.15" fill="#c8d9e5" stroke="#adc5d4" stroke-width="0.4"/>
<circle cx="448.08" cy="127.70" r="1.15" fill="#c8d9e5" stroke="#adc5d4" stroke-width="0.4"/>
<circle cx="447.93" cy="117.71" r="1.15" fill="#c8d9e5" stroke="#adc5d4" stroke-width="0.4"/>
<circle cx="443.38" cy="120.80" r="1.15" fill="#c8d9e5" stroke="#adc5d4" stroke-width="0.4"/>
<circle cx="446.76" cy="131.16" r="1.15" fill="#c8d9e5" stroke="#adc5d4" stroke-width="0.4"/>
<circle cx="442.83" cy="116.44" r="1.15" fill="#c8d9e5" stroke="#adc5d4" stroke-width="0.4"/>
<circle cx="441.92" cy="122.46" r="1.15" fill="#c8d9e5" stroke="#adc5d4" stroke-width="0.4"/>
<circle cx="441.72" cy="117.22" r="1.15" fill="#c8d9e5" stroke="#adc5d4" stroke-width="0.4"/>
<circle cx="438.79" cy="125.06" r="1.15" fill="#c8d9e5" stroke="#adc5d4" stroke-width="0.4"/>
<circle cx="442.92" cy="122.96" r="1.15" fill="#c8d9e5" stroke="#adc5d4" stroke-width="0.4"/>
<circle cx="441.85" cy="111.36" r="1.15" fill="#c8d9e5" stroke="#adc5d4" stroke-width="0.4"/>
<circle cx="443.62" cy="123.82" r="1.15" fill="#c8d9e5" stroke="#adc5d4" stroke-width="0.4"/>
<circle cx="448.25" cy="113.62" r="1.15" fill="#c8d9e5" stroke="#adc5d4" stroke-width="0.4"/>
<circle cx="448.12" cy="126.02" r="1.15" fill="#c8d9e5" stroke="#adc5d4" stroke-width="0.4"/>
<circle cx="441.20" cy="114.96" r="1.15" fill="#c8d9e5" stroke="#adc5d4" stroke-width="0.4"/>
<circle cx="446.23" cy="112.58" r="1.15" fill="#c8d9e5" stroke="#adc5d4" stroke-width="0.4"/>
<circle cx="439.87" cy="118.69" r="1.15" fill="#c8d9e5" stroke="#adc5d4" stroke-width="0.4"/>
<circle cx="447.53" cy="121.16" r="1.15" fill="#c8d9e5" stroke="#adc5d4" stroke-width="0.4"/>
<circle cx="441.13" cy="126.51" r="1.15" fill="#c8d9e5" stroke="#adc5d4" stroke-width="0.4"/>
<circle cx="443.50" cy="80.70" r="1.15" fill="#c8d9e5" stroke="#adc5d4" stroke-width="0.4"/>
<circle cx="440.60" cy="85.20" r="1.15" fill="#c8d9e5" stroke="#adc5d4" stroke-width="0.4"/>
<circle cx="445.00" cy="87.40" r="1.15" fill="#c8d9e5" stroke="#adc5d4" stroke-width="0.4"/>
<circle cx="439.80" cy="92.60" r="1.15" fill="#c8d9e5" stroke="#adc5d4" stroke-width="0.4"/>
<circle cx="441.60" cy="94.80" r="1.15" fill="#c8d9e5" stroke="#adc5d4" stroke-width="0.4"/>
<circle cx="439.80" cy="97.70" r="1.15" fill="#c8d9e5" stroke="#adc5d4" stroke-width="0.4"/>
<circle cx="446.50" cy="98.00" r="1.15" fill="#c8d9e5" stroke="#adc5d4" stroke-width="0.4"/>
<circle cx="440.60" cy="100.70" r="1.15" fill="#c8d9e5" stroke="#adc5d4" stroke-width="0.4"/>
<circle cx="442.80" cy="102.90" r="1.15" fill="#c8d9e5" stroke="#adc5d4" stroke-width="0.4"/>
<circle cx="439.80" cy="105.10" r="1.15" fill="#c8d9e5" stroke="#adc5d4" stroke-width="0.4"/>
<circle cx="445.00" cy="106.60" r="1.15" fill="#c8d9e5" stroke="#adc5d4" stroke-width="0.4"/>
<circle cx="440.80" cy="32.30" r="1.15" fill="#c8d9e5" stroke="#adc5d4" stroke-width="0.4"/>
<circle cx="443.20" cy="58.70" r="1.15" fill="#c8d9e5" stroke="#adc5d4" stroke-width="0.4"/>
<circle cx="439.20" cy="73.80" r="1.15" fill="#c8d9e5" stroke="#adc5d4" stroke-width="0.4"/>
<circle cx="442.30" cy="114.70" r="1.2" fill="#4caf3a" stroke="none" stroke-width="0.5"/>
<circle cx="446.90" cy="131.40" r="1.2" fill="#4caf3a" stroke="none" stroke-width="0.5"/>
<circle cx="474.20" cy="37.70" r="1.35" fill="#f3d3e1" stroke="#dd93b4" stroke-width="0.8"/>
<circle cx="475.00" cy="54.00" r="1.35" fill="#f3d3e1" stroke="#dd93b4" stroke-width="0.8"/>
<circle cx="476.00" cy="86.60" r="1.35" fill="#f3d3e1" stroke="#dd93b4" stroke-width="0.8"/>
<circle cx="477.50" cy="85.20" r="1.35" fill="#f3d3e1" stroke="#dd93b4" stroke-width="0.8"/>
<circle cx="480.90" cy="93.30" r="1.35" fill="#f3d3e1" stroke="#dd93b4" stroke-width="0.8"/>
<circle cx="474.60" cy="95.50" r="1.35" fill="#f3d3e1" stroke="#dd93b4" stroke-width="0.8"/>
<circle cx="476.80" cy="95.50" r="1.35" fill="#f3d3e1" stroke="#dd93b4" stroke-width="0.8"/>
<circle cx="480.00" cy="98.00" r="1.35" fill="#f3d3e1" stroke="#dd93b4" stroke-width="0.8"/>
<circle cx="480.00" cy="103.60" r="1.35" fill="#f3d3e1" stroke="#dd93b4" stroke-width="0.8"/>
<circle cx="481.20" cy="104.80" r="1.35" fill="#f3d3e1" stroke="#dd93b4" stroke-width="0.8"/>
<circle cx="475.00" cy="106.30" r="1.35" fill="#f3d3e1" stroke="#dd93b4" stroke-width="0.8"/>
<circle cx="476.00" cy="108.00" r="1.35" fill="#f3d3e1" stroke="#dd93b4" stroke-width="0.8"/>
<circle cx="479.40" cy="106.90" r="1.35" fill="#f3d3e1" stroke="#dd93b4" stroke-width="0.8"/>
<circle cx="475.00" cy="110.30" r="1.35" fill="#f3d3e1" stroke="#dd93b4" stroke-width="0.8"/>
<circle cx="478.20" cy="111.00" r="1.35" fill="#f3d3e1" stroke="#dd93b4" stroke-width="0.8"/>
<circle cx="479.70" cy="114.00" r="1.35" fill="#f3d3e1" stroke="#dd93b4" stroke-width="0.8"/>
<circle cx="473.80" cy="115.50" r="1.35" fill="#f3d3e1" stroke="#dd93b4" stroke-width="0.8"/>
<circle cx="476.80" cy="116.20" r="1.35" fill="#f3d3e1" stroke="#dd93b4" stroke-width="0.8"/>
<circle cx="479.70" cy="116.20" r="1.35" fill="#f3d3e1" stroke="#dd93b4" stroke-width="0.8"/>
<circle cx="474.60" cy="118.40" r="1.35" fill="#f3d3e1" stroke="#dd93b4" stroke-width="0.8"/>
<circle cx="477.50" cy="119.10" r="1.35" fill="#f3d3e1" stroke="#dd93b4" stroke-width="0.8"/>
<circle cx="475.30" cy="121.40" r="1.35" fill="#f3d3e1" stroke="#dd93b4" stroke-width="0.8"/>
<circle cx="478.20" cy="120.60" r="1.35" fill="#f3d3e1" stroke="#dd93b4" stroke-width="0.8"/>
<circle cx="473.80" cy="122.10" r="1.35" fill="#f3d3e1" stroke="#dd93b4" stroke-width="0.8"/>
<circle cx="476.80" cy="123.60" r="1.35" fill="#f3d3e1" stroke="#dd93b4" stroke-width="0.8"/>
<circle cx="481.20" cy="124.30" r="1.35" fill="#f3d3e1" stroke="#dd93b4" stroke-width="0.8"/>
<circle cx="479.70" cy="125.80" r="1.35" fill="#f3d3e1" stroke="#dd93b4" stroke-width="0.8"/>
<circle cx="476.80" cy="127.30" r="1.35" fill="#f3d3e1" stroke="#dd93b4" stroke-width="0.8"/>
<circle cx="474.60" cy="128.70" r="1.35" fill="#f3d3e1" stroke="#dd93b4" stroke-width="0.8"/>
<circle cx="478.20" cy="129.50" r="1.35" fill="#f3d3e1" stroke="#dd93b4" stroke-width="0.8"/>
<circle cx="480.50" cy="130.20" r="1.35" fill="#f3d3e1" stroke="#dd93b4" stroke-width="0.8"/>
<circle cx="476.00" cy="131.00" r="1.35" fill="#f3d3e1" stroke="#dd93b4" stroke-width="0.8"/>
<circle cx="479.00" cy="131.70" r="1.35" fill="#f3d3e1" stroke="#dd93b4" stroke-width="0.8"/>
<circle cx="476.30" cy="99.50" r="1.2" fill="#7d9b2f" stroke="none" stroke-width="0.5"/>
<circle cx="482.30" cy="112.40" r="1.2" fill="#7d9b2f" stroke="none" stroke-width="0.5"/>
<circle cx="509.20" cy="42.20" r="1.35" fill="#f6d7da" stroke="#d04a5a" stroke-width="0.8"/>
<circle cx="515.20" cy="85.80" r="1.35" fill="#f6d7da" stroke="#d04a5a" stroke-width="0.8"/>
<circle cx="510.00" cy="94.00" r="1.35" fill="#f6d7da" stroke="#d04a5a" stroke-width="0.8"/>
<circle cx="508.40" cy="111.40" r="1.35" fill="#f6d7da" stroke="#d04a5a" stroke-width="0.8"/>
<circle cx="510.30" cy="115.30" r="1.35" fill="#f6d7da" stroke="#d04a5a" stroke-width="0.8"/>
<circle cx="513.20" cy="124.30" r="1.35" fill="#f6d7da" stroke="#d04a5a" stroke-width="0.8"/>
<circle cx="516.70" cy="124.00" r="1.35" fill="#f6d7da" stroke="#d04a5a" stroke-width="0.8"/>
<text x="0" y="0" font-size="5.25" fill="#333" text-anchor="start" stroke="#333" stroke-width="0.12" transform="translate(407.00,149.8) rotate(50)">Shallow Deletion</text>
<text x="0" y="0" font-size="5.25" fill="#333" text-anchor="start" stroke="#333" stroke-width="0.12" transform="translate(441.80,149.8) rotate(50)">Diploid</text>
<text x="0" y="0" font-size="5.25" fill="#333" text-anchor="start" stroke="#333" stroke-width="0.12" transform="translate(476.60,149.8) rotate(50)">Gain</text>
<text x="0" y="0" font-size="5.25" fill="#333" text-anchor="start" stroke="#333" stroke-width="0.12" transform="translate(511.40,149.8) rotate(50)">Amplification</text>
<text x="409.4" y="198.9" font-size="5.13" fill="#444" text-anchor="start" stroke="#444" stroke-width="0.12" >ADAM17: Putative copy number alterations from GISTIC</text>
<text x="352.4" y="214.9" font-size="5.9" fill="#363636" text-anchor="start" font-weight="bold" >ADAM17</text>
<circle cx="383.50" cy="212.80" r="0.9" fill="#3aa63a" stroke="none" stroke-width="0.5"/>
<text x="389.3" y="214.7" font-size="5.15" fill="#4a4a4a" text-anchor="start" stroke="#4a4a4a" stroke-width="0.12" >Missense (VUS)</text>
<circle cx="383.50" cy="222.30" r="1.2" fill="#fbe3ec" stroke="#e08aa8" stroke-width="0.6"/>
<text x="389.3" y="224.2" font-size="5.15" fill="#4a4a4a" text-anchor="start" stroke="#4a4a4a" stroke-width="0.12" >Gain</text>
<circle cx="448.00" cy="212.60" r="0.9" fill="#a9c9dc" stroke="none" stroke-width="0.5"/>
<text x="454" y="214.5" font-size="5.15" fill="#4a4a4a" text-anchor="start" stroke="#4a4a4a" stroke-width="0.12" >Not mutated</text>
<circle cx="448.00" cy="222.00" r="1.2" fill="#ffffff" stroke="#c8c8c8" stroke-width="0.6"/>
<text x="454" y="223.9" font-size="5.15" fill="#4a4a4a" text-anchor="start" stroke="#4a4a4a" stroke-width="0.12" >Diploid</text>
<circle cx="504.40" cy="212.60" r="1.25" fill="#f7d9dc" stroke="#c8303f" stroke-width="0.9"/>
<text x="510.4" y="214.5" font-size="5.15" fill="#4a4a4a" text-anchor="start" stroke="#4a4a4a" stroke-width="0.12" >Amplification</text>
<circle cx="504.40" cy="221.90" r="1.25" fill="#d3f0f4" stroke="#45b2c4" stroke-width="0.9"/>
<text x="512" y="222.6" font-size="4.9" fill="#4a4a4a" text-anchor="start" stroke="#4a4a4a" stroke-width="0.12" >Shallow Deletion</text>
<text x="11.4" y="232.2" font-size="8.3" fill="#111" text-anchor="start" font-weight="bold" >C</text>
<text x="9.6" y="245.1" font-size="5.9" fill="#363636" text-anchor="start" font-weight="bold" ># Samples per Patient</text>
<text x="9.6" y="258.7" font-size="5.9" fill="#363636" text-anchor="start" font-weight="bold" >Profiled in Consensus putative gene level copy-number calls.</text>
<text x="9.6" y="272.7" font-size="5.9" fill="#363636" text-anchor="start" font-weight="bold" >Profiled in Mutations</text>
<text x="9.6" y="290.7" font-size="5.9" fill="#363636" text-anchor="start" font-weight="bold" >ADAM17</text>
<text x="201.2" y="290.6" font-size="4.8" fill="#444" text-anchor="end" font-weight="bold" >3%</text>
<rect x="205.65" y="246.30" width="2.30" height="1.50" fill="#167a4e" />
<rect x="205.65" y="252.00" width="2.30" height="9.00" fill="#0a8c60" />
<rect x="205.65" y="265.70" width="2.30" height="9.10" fill="#0a8c60" />
<rect x="205.65" y="283.60" width="2.30" height="9.40" fill="#e4161c" />
<rect x="209.43" y="246.30" width="2.30" height="1.50" fill="#167a4e" />
<rect x="209.43" y="252.00" width="2.30" height="9.00" fill="#0a8c60" />
<rect x="209.43" y="265.70" width="2.30" height="9.10" fill="#0a8c60" />
<rect x="209.43" y="283.60" width="2.30" height="9.40" fill="#e4161c" />
<rect x="213.21" y="246.30" width="2.30" height="1.50" fill="#167a4e" />
<rect x="213.21" y="252.00" width="2.30" height="9.00" fill="#0a8c60" />
<rect x="213.21" y="265.70" width="2.30" height="9.10" fill="#0a8c60" />
<rect x="213.21" y="283.60" width="2.30" height="9.40" fill="#e4161c" />
<rect x="216.99" y="246.30" width="2.30" height="1.50" fill="#167a4e" />
<rect x="216.99" y="252.00" width="2.30" height="9.00" fill="#0a8c60" />
<rect x="216.99" y="265.70" width="2.30" height="9.10" fill="#0a8c60" />
<rect x="216.99" y="283.60" width="2.30" height="9.40" fill="#e4161c" />
<rect x="220.77" y="246.30" width="2.30" height="1.50" fill="#167a4e" />
<rect x="220.77" y="252.00" width="2.30" height="9.00" fill="#0a8c60" />
<rect x="220.77" y="265.70" width="2.30" height="9.10" fill="#0a8c60" />
<rect x="220.77" y="283.60" width="2.30" height="9.40" fill="#e4161c" />
<rect x="224.55" y="246.30" width="2.30" height="1.50" fill="#167a4e" />
<rect x="224.55" y="252.00" width="2.30" height="9.00" fill="#0a8c60" />
<rect x="224.55" y="265.70" width="2.30" height="9.10" fill="#0a8c60" />
<rect x="224.55" y="283.60" width="2.30" height="9.40" fill="#e4161c" />
<rect x="228.33" y="246.30" width="2.30" height="1.50" fill="#167a4e" />
<rect x="228.33" y="252.00" width="2.30" height="9.00" fill="#0a8c60" />
<rect x="228.33" y="265.70" width="2.30" height="9.10" fill="#0a8c60" />
<rect x="228.33" y="283.60" width="2.30" height="9.40" fill="#e4161c" />
<rect x="232.11" y="246.30" width="2.30" height="1.50" fill="#167a4e" />
<rect x="232.11" y="252.00" width="2.30" height="9.00" fill="#0a8c60" />
<rect x="232.11" y="265.70" width="2.30" height="9.10" fill="#0a8c60" />
<rect x="232.11" y="283.60" width="2.30" height="9.40" fill="#e4161c" />
<rect x="235.89" y="246.30" width="2.30" height="1.50" fill="#167a4e" />
<rect x="235.89" y="252.00" width="2.30" height="9.00" fill="#0a8c60" />
<rect x="235.89" y="265.70" width="2.30" height="9.10" fill="#0a8c60" />
<rect x="235.89" y="283.60" width="2.30" height="9.40" fill="#e4161c" />
<rect x="239.67" y="246.30" width="2.30" height="1.50" fill="#167a4e" />
<rect x="239.67" y="252.00" width="2.30" height="9.00" fill="#0a8c60" />
<rect x="239.67" y="265.70" width="2.30" height="9.10" fill="#0a8c60" />
<rect x="239.67" y="283.60" width="2.30" height="9.40" fill="#e4161c" />
<rect x="243.45" y="246.30" width="2.30" height="1.50" fill="#167a4e" />
<rect x="243.45" y="252.00" width="2.30" height="9.00" fill="#0a8c60" />
<rect x="243.45" y="265.70" width="2.30" height="9.10" fill="#0a8c60" />
<rect x="243.45" y="283.60" width="2.30" height="9.40" fill="#e4161c" />
<rect x="247.23" y="246.30" width="2.30" height="1.50" fill="#167a4e" />
<rect x="247.23" y="252.00" width="2.30" height="9.00" fill="#0a8c60" />
<rect x="247.23" y="265.70" width="2.30" height="9.10" fill="#0a8c60" />
<rect x="247.23" y="283.60" width="2.30" height="9.40" fill="#e4161c" />
<rect x="251.01" y="246.30" width="2.30" height="1.50" fill="#167a4e" />
<rect x="251.01" y="252.00" width="2.30" height="9.00" fill="#0a8c60" />
<rect x="251.01" y="265.70" width="2.30" height="9.10" fill="#0a8c60" />
<rect x="251.01" y="283.60" width="2.30" height="9.40" fill="#e4161c" />
<rect x="254.79" y="246.30" width="2.30" height="1.50" fill="#167a4e" />
<rect x="254.79" y="252.00" width="2.30" height="9.00" fill="#0a8c60" />
<rect x="254.79" y="265.70" width="2.30" height="9.10" fill="#0a8c60" />
<rect x="254.79" y="283.60" width="2.30" height="9.40" fill="#e4161c" />
<rect x="258.57" y="246.30" width="2.30" height="1.50" fill="#167a4e" />
<rect x="258.57" y="252.00" width="2.30" height="9.00" fill="#0a8c60" />
<rect x="258.57" y="265.70" width="2.30" height="9.10" fill="#0a8c60" />
<rect x="258.57" y="283.60" width="2.30" height="9.40" fill="#e4161c" />
<rect x="262.35" y="246.30" width="2.30" height="1.50" fill="#167a4e" />
<rect x="262.35" y="252.00" width="2.30" height="9.00" fill="#0a8c60" />
<rect x="262.35" y="265.70" width="2.30" height="9.10" fill="#0a8c60" />
<rect x="262.35" y="283.60" width="2.30" height="9.40" fill="#e4161c" />
<rect x="266.13" y="246.30" width="2.30" height="1.50" fill="#167a4e" />
<rect x="266.13" y="252.00" width="2.30" height="9.00" fill="#0a8c60" />
<rect x="266.13" y="265.70" width="2.30" height="9.10" fill="#0a8c60" />
<rect x="266.13" y="283.60" width="2.30" height="9.40" fill="#e4161c" />
<rect x="269.91" y="246.30" width="2.30" height="1.50" fill="#167a4e" />
<rect x="269.91" y="252.00" width="2.30" height="9.00" fill="#0a8c60" />
<rect x="269.91" y="265.70" width="2.30" height="9.10" fill="#0a8c60" />
<rect x="269.91" y="283.60" width="2.30" height="9.40" fill="#e4161c" />
<rect x="273.69" y="246.30" width="2.30" height="1.50" fill="#167a4e" />
<rect x="273.69" y="252.00" width="2.30" height="9.00" fill="#0a8c60" />
<rect x="273.69" y="265.70" width="2.30" height="9.10" fill="#0a8c60" />
<rect x="273.69" y="283.60" width="2.30" height="9.40" fill="#e4161c" />
<rect x="277.47" y="246.30" width="2.30" height="1.50" fill="#167a4e" />
<rect x="277.47" y="252.00" width="2.30" height="9.00" fill="#0a8c60" />
<rect x="277.47" y="265.70" width="2.30" height="9.10" fill="#0a8c60" />
<rect x="277.47" y="283.60" width="2.30" height="9.40" fill="#e4161c" />
<rect x="281.25" y="246.30" width="2.30" height="1.50" fill="#167a4e" />
<rect x="281.25" y="252.00" width="2.30" height="9.00" fill="#0a8c60" />
<rect x="281.25" y="265.70" width="2.30" height="9.10" fill="#0a8c60" />
<rect x="281.25" y="283.60" width="2.30" height="9.40" fill="#e4161c" />
<rect x="285.03" y="246.30" width="2.30" height="1.50" fill="#167a4e" />
<rect x="285.03" y="252.00" width="2.30" height="9.00" fill="#0a8c60" />
<rect x="285.03" y="265.70" width="2.30" height="9.10" fill="#0a8c60" />
<rect x="285.03" y="283.60" width="2.30" height="9.40" fill="#e4161c" />
<rect x="288.81" y="246.30" width="2.30" height="1.50" fill="#167a4e" />
<rect x="288.81" y="252.00" width="2.30" height="9.00" fill="#0a8c60" />
<rect x="288.81" y="265.70" width="2.30" height="9.10" fill="#0a8c60" />
<rect x="288.81" y="283.60" width="2.30" height="9.40" fill="#e4161c" />
<rect x="292.59" y="246.30" width="2.30" height="1.50" fill="#167a4e" />
<rect x="292.59" y="252.00" width="2.30" height="9.00" fill="#0a8c60" />
<rect x="292.59" y="265.70" width="2.30" height="9.10" fill="#0a8c60" />
<rect x="292.59" y="283.60" width="2.30" height="9.40" fill="#e4161c" />
<rect x="296.37" y="246.30" width="2.30" height="1.50" fill="#167a4e" />
<rect x="296.37" y="252.00" width="2.30" height="9.00" fill="#0a8c60" />
<rect x="296.37" y="265.70" width="2.30" height="9.10" fill="#0a8c60" />
<rect x="296.37" y="283.60" width="2.30" height="9.40" fill="#e4161c" />
<rect x="300.15" y="246.30" width="2.30" height="1.50" fill="#167a4e" />
<rect x="300.15" y="252.00" width="2.30" height="9.00" fill="#0a8c60" />
<rect x="300.15" y="265.70" width="2.30" height="9.10" fill="#0a8c60" />
<rect x="300.15" y="283.60" width="2.30" height="9.40" fill="#e4161c" />
<rect x="303.93" y="246.30" width="2.30" height="1.50" fill="#167a4e" />
<rect x="303.93" y="252.00" width="2.30" height="9.00" fill="#0a8c60" />
<rect x="303.93" y="265.70" width="2.30" height="9.10" fill="#0a8c60" />
<rect x="303.93" y="283.60" width="2.30" height="9.40" fill="#e4161c" />
<rect x="307.71" y="246.30" width="2.30" height="1.50" fill="#167a4e" />
<rect x="307.71" y="252.00" width="2.30" height="9.00" fill="#0a8c60" />
<rect x="307.71" y="265.70" width="2.30" height="9.10" fill="#0a8c60" />
<rect x="307.71" y="283.60" width="2.30" height="9.40" fill="#e4161c" />
<rect x="311.49" y="246.30" width="2.30" height="1.50" fill="#167a4e" />
<rect x="311.49" y="252.00" width="2.30" height="9.00" fill="#0a8c60" />
<rect x="311.49" y="265.70" width="2.30" height="9.10" fill="#0a8c60" />
<rect x="311.49" y="283.60" width="2.30" height="9.40" fill="#e4161c" />
<rect x="315.27" y="246.30" width="2.30" height="1.50" fill="#167a4e" />
<rect x="315.27" y="252.00" width="2.30" height="9.00" fill="#0a8c60" />
<rect x="315.27" y="265.70" width="2.30" height="9.10" fill="#0a8c60" />
<rect x="315.27" y="283.60" width="2.30" height="9.40" fill="#e4161c" />
<rect x="319.05" y="245.50" width="2.30" height="2.30" fill="#236f3c" />
<rect x="319.05" y="252.00" width="2.30" height="9.00" fill="#0a8c60" />
<rect x="319.05" y="265.70" width="2.30" height="9.10" fill="#0a8c60" />
<rect x="319.05" y="283.60" width="2.30" height="9.40" fill="#e4161c" />
<rect x="322.83" y="246.30" width="2.30" height="1.50" fill="#167a4e" />
<rect x="322.83" y="252.00" width="2.30" height="9.00" fill="#0a8c60" />
<rect x="322.83" y="265.70" width="2.30" height="9.10" fill="#0a8c60" />
<rect x="322.83" y="283.60" width="2.30" height="9.40" fill="#e4161c" />
<rect x="326.61" y="246.30" width="2.30" height="1.50" fill="#167a4e" />
<rect x="326.61" y="252.00" width="2.30" height="9.00" fill="#0a8c60" />
<rect x="326.61" y="265.70" width="2.30" height="9.10" fill="#0a8c60" />
<rect x="326.61" y="283.60" width="2.30" height="9.40" fill="#e4161c" />
<rect x="330.39" y="246.30" width="2.30" height="1.50" fill="#167a4e" />
<rect x="330.39" y="252.00" width="2.30" height="9.00" fill="#0a8c60" />
<rect x="330.39" y="265.70" width="2.30" height="9.10" fill="#0a8c60" />
<rect x="330.39" y="283.60" width="2.30" height="9.40" fill="#e4161c" />
<rect x="334.17" y="246.30" width="2.30" height="1.50" fill="#167a4e" />
<rect x="334.17" y="252.00" width="2.30" height="9.00" fill="#0a8c60" />
<rect x="334.17" y="265.70" width="2.30" height="9.10" fill="#0a8c60" />
<rect x="334.17" y="283.60" width="2.30" height="9.40" fill="#e4161c" />
<rect x="337.95" y="246.30" width="2.30" height="1.50" fill="#167a4e" />
<rect x="337.95" y="252.00" width="2.30" height="9.00" fill="#0a8c60" />
<rect x="337.95" y="265.70" width="2.30" height="9.10" fill="#0a8c60" />
<rect x="337.95" y="283.60" width="2.30" height="9.40" fill="#e4161c" />
<rect x="341.73" y="246.30" width="2.30" height="1.50" fill="#167a4e" />
<rect x="341.73" y="252.00" width="2.30" height="9.00" fill="#0a8c60" />
<rect x="341.73" y="265.70" width="2.30" height="9.10" fill="#0a8c60" />
<rect x="341.73" y="283.60" width="2.30" height="9.40" fill="#e4161c" />
<rect x="345.51" y="246.30" width="2.30" height="1.50" fill="#167a4e" />
<rect x="345.51" y="252.00" width="2.30" height="9.00" fill="#0a8c60" />
<rect x="345.51" y="265.70" width="2.30" height="9.10" fill="#0a8c60" />
<rect x="345.51" y="283.60" width="2.30" height="9.40" fill="#e4161c" />
<rect x="349.29" y="246.30" width="2.30" height="1.50" fill="#167a4e" />
<rect x="349.29" y="252.00" width="2.30" height="9.00" fill="#0a8c60" />
<rect x="349.29" y="265.70" width="2.30" height="9.10" fill="#0a8c60" />
<rect x="349.29" y="283.60" width="2.30" height="9.40" fill="#e4161c" />
<rect x="353.07" y="245.50" width="2.30" height="2.30" fill="#236f3c" />
<rect x="353.07" y="252.00" width="2.30" height="9.00" fill="#0a8c60" />
<rect x="353.07" y="265.70" width="2.30" height="9.10" fill="#0a8c60" />
<rect x="353.07" y="283.60" width="2.30" height="9.40" fill="#e4161c" />
<rect x="356.85" y="246.30" width="2.30" height="1.50" fill="#167a4e" />
<rect x="356.85" y="252.00" width="2.30" height="9.00" fill="#0a8c60" />
<rect x="356.85" y="265.70" width="2.30" height="9.10" fill="#0a8c60" />
<rect x="356.85" y="283.60" width="2.30" height="9.40" fill="#e4161c" />
<rect x="360.63" y="246.30" width="2.30" height="1.50" fill="#167a4e" />
<rect x="360.63" y="252.00" width="2.30" height="9.00" fill="#0a8c60" />
<rect x="360.63" y="265.70" width="2.30" height="9.10" fill="#0a8c60" />
<rect x="360.63" y="283.60" width="2.30" height="9.40" fill="#e4161c" />
<rect x="364.41" y="246.30" width="2.30" height="1.50" fill="#167a4e" />
<rect x="364.41" y="252.00" width="2.30" height="9.00" fill="#0a8c60" />
<rect x="364.41" y="265.70" width="2.30" height="9.10" fill="#0a8c60" />
<rect x="364.41" y="283.60" width="2.30" height="9.40" fill="#e4161c" />
<rect x="368.19" y="246.30" width="2.30" height="1.50" fill="#167a4e" />
<rect x="368.19" y="252.00" width="2.30" height="9.00" fill="#0a8c60" />
<rect x="368.19" y="265.70" width="2.30" height="9.10" fill="#0a8c60" />
<rect x="368.19" y="283.60" width="2.30" height="9.40" fill="#e4161c" />
<rect x="371.97" y="246.30" width="2.30" height="1.50" fill="#167a4e" />
<rect x="371.97" y="252.00" width="2.30" height="9.00" fill="#0a8c60" />
<rect x="371.97" y="265.70" width="2.30" height="9.10" fill="#0a8c60" />
<rect x="371.97" y="283.60" width="2.30" height="9.40" fill="#e4161c" />
<rect x="375.75" y="246.30" width="2.30" height="1.50" fill="#167a4e" />
<rect x="375.75" y="252.00" width="2.30" height="9.00" fill="#0a8c60" />
<rect x="375.75" y="265.70" width="2.30" height="9.10" fill="#0a8c60" />
<rect x="375.75" y="283.60" width="2.30" height="9.40" fill="#e4161c" />
<rect x="379.53" y="242.90" width="2.30" height="4.90" fill="#17762f" />
<rect x="379.53" y="252.00" width="2.30" height="9.00" fill="#0a8c60" />
<rect x="379.53" y="265.70" width="2.30" height="9.10" fill="#0a8c60" />
<rect x="379.53" y="283.60" width="2.30" height="9.40" fill="#e4161c" />
<rect x="383.31" y="246.30" width="2.30" height="1.50" fill="#167a4e" />
<rect x="383.31" y="252.00" width="2.30" height="9.00" fill="#0a8c60" />
<rect x="383.31" y="265.70" width="2.30" height="9.10" fill="#0a8c60" />
<rect x="383.31" y="283.60" width="2.30" height="9.40" fill="#e4161c" />
<rect x="387.09" y="246.30" width="2.30" height="1.50" fill="#167a4e" />
<rect x="387.09" y="252.00" width="2.30" height="9.00" fill="#0a8c60" />
<rect x="387.09" y="265.70" width="2.30" height="9.10" fill="#0a8c60" />
<rect x="387.09" y="283.60" width="2.30" height="9.40" fill="#e4161c" />
<rect x="390.87" y="246.30" width="2.30" height="1.50" fill="#167a4e" />
<rect x="390.87" y="252.00" width="2.30" height="9.00" fill="#0a8c60" />
<rect x="390.87" y="265.70" width="2.30" height="9.10" fill="#0a8c60" />
<rect x="390.87" y="283.60" width="2.30" height="9.40" fill="#e4161c" />
<rect x="394.65" y="246.30" width="2.30" height="1.50" fill="#167a4e" />
<rect x="394.65" y="252.00" width="2.30" height="9.00" fill="#0a8c60" />
<rect x="394.65" y="265.70" width="2.30" height="9.10" fill="#0a8c60" />
<rect x="394.65" y="283.60" width="2.30" height="9.40" fill="#e4161c" />
<rect x="398.43" y="246.30" width="2.30" height="1.50" fill="#167a4e" />
<rect x="398.43" y="252.00" width="2.30" height="9.00" fill="#0a8c60" />
<rect x="398.43" y="265.70" width="2.30" height="9.10" fill="#0a8c60" />
<rect x="398.43" y="283.60" width="2.30" height="9.40" fill="#e4161c" />
<rect x="402.21" y="246.30" width="2.30" height="1.50" fill="#167a4e" />
<rect x="402.21" y="252.00" width="2.30" height="9.00" fill="#0a8c60" />
<rect x="402.21" y="265.70" width="2.30" height="9.10" fill="#0a8c60" />
<rect x="402.21" y="283.60" width="2.30" height="9.40" fill="#e4161c" />
<rect x="405.99" y="246.30" width="2.30" height="1.50" fill="#167a4e" />
<rect x="405.99" y="252.00" width="2.30" height="9.00" fill="#0a8c60" />
<rect x="405.99" y="265.70" width="2.30" height="9.10" fill="#0a8c60" />
<rect x="405.99" y="283.60" width="2.30" height="9.40" fill="#e4161c" />
<rect x="409.77" y="246.30" width="2.30" height="1.50" fill="#167a4e" />
<rect x="409.77" y="252.00" width="2.30" height="9.00" fill="#0a8c60" />
<rect x="409.77" y="265.70" width="2.30" height="9.10" fill="#0a8c60" />
<rect x="409.77" y="283.60" width="2.30" height="9.40" fill="#e4161c" />
<rect x="413.55" y="246.30" width="2.30" height="1.50" fill="#167a4e" />
<rect x="413.55" y="252.00" width="2.30" height="9.00" fill="#0a8c60" />
<rect x="413.55" y="265.70" width="2.30" height="9.10" fill="#0a8c60" />
<rect x="413.55" y="283.60" width="2.30" height="9.40" fill="#e4161c" />
<rect x="417.33" y="246.30" width="2.30" height="1.50" fill="#167a4e" />
<rect x="417.33" y="252.00" width="2.30" height="9.00" fill="#0a8c60" />
<rect x="417.33" y="265.70" width="2.30" height="9.10" fill="#0a8c60" />
<rect x="417.33" y="283.60" width="2.30" height="9.40" fill="#e4161c" />
<rect x="421.11" y="246.30" width="2.30" height="1.50" fill="#167a4e" />
<rect x="421.11" y="252.00" width="2.30" height="9.00" fill="#0a8c60" />
<rect x="421.11" y="265.70" width="2.30" height="9.10" fill="#0a8c60" />
<rect x="421.11" y="283.60" width="2.30" height="9.40" fill="#e4161c" />
<rect x="424.89" y="246.30" width="2.30" height="1.50" fill="#167a4e" />
<rect x="424.89" y="252.00" width="2.30" height="9.00" fill="#0a8c60" />
<rect x="424.89" y="265.70" width="2.30" height="9.10" fill="#0a8c60" />
<rect x="424.89" y="283.60" width="2.30" height="9.40" fill="#e4161c" />
<rect x="428.67" y="246.30" width="2.30" height="1.50" fill="#167a4e" />
<rect x="428.67" y="252.00" width="2.30" height="9.00" fill="#0a8c60" />
<rect x="428.67" y="265.70" width="2.30" height="9.10" fill="#0a8c60" />
<rect x="428.67" y="283.60" width="2.30" height="9.40" fill="#e4161c" />
<rect x="432.45" y="246.30" width="2.30" height="1.50" fill="#167a4e" />
<rect x="432.45" y="252.00" width="2.30" height="9.00" fill="#0a8c60" />
<rect x="432.45" y="265.70" width="2.30" height="9.10" fill="#0a8c60" />
<rect x="432.45" y="283.60" width="2.30" height="9.40" fill="#1d3f99" />
<rect x="436.23" y="246.30" width="2.30" height="1.50" fill="#167a4e" />
<rect x="436.23" y="252.00" width="2.30" height="9.00" fill="#0a8c60" />
<rect x="436.23" y="265.70" width="2.30" height="9.10" fill="#0a8c60" />
<rect x="436.23" y="283.60" width="2.30" height="9.40" fill="#1d3f99" />
<rect x="440.01" y="246.30" width="2.30" height="1.50" fill="#167a4e" />
<rect x="440.01" y="252.00" width="2.30" height="9.00" fill="#0a8c60" />
<rect x="440.01" y="265.70" width="2.30" height="9.10" fill="#0a8c60" />
<rect x="440.01" y="283.60" width="2.30" height="9.40" fill="#1d3f99" />
<rect x="443.79" y="246.30" width="2.30" height="1.50" fill="#167a4e" />
<rect x="443.79" y="252.00" width="2.30" height="9.00" fill="#0a8c60" />
<rect x="443.79" y="265.70" width="2.30" height="9.10" fill="#0a8c60" />
<rect x="443.79" y="283.60" width="2.30" height="9.40" fill="#1d3f99" />
<rect x="447.57" y="246.30" width="2.30" height="1.50" fill="#167a4e" />
<rect x="447.57" y="252.00" width="2.30" height="9.00" fill="#0a8c60" />
<rect x="447.57" y="265.70" width="2.30" height="9.10" fill="#0a8c60" />
<rect x="447.57" y="283.60" width="2.30" height="9.40" fill="#d6d6d6" />
<rect x="447.57" y="286.60" width="2.30" height="3.40" fill="#5f6b77" />
<rect x="451.35" y="246.30" width="2.30" height="1.50" fill="#167a4e" />
<rect x="451.35" y="252.00" width="2.30" height="9.00" fill="#0a8c60" />
<rect x="451.35" y="265.70" width="2.30" height="9.10" fill="#0a8c60" />
<rect x="451.35" y="283.60" width="2.30" height="9.40" fill="#d6d6d6" />
<rect x="451.35" y="286.60" width="2.30" height="3.40" fill="#5f6b77" />
<rect x="455.13" y="246.30" width="2.30" height="1.50" fill="#167a4e" />
<rect x="455.13" y="252.00" width="2.30" height="9.00" fill="#0a8c60" />
<rect x="455.13" y="265.70" width="2.30" height="9.10" fill="#0a8c60" />
<rect x="455.13" y="283.60" width="2.30" height="9.40" fill="#d6d6d6" />
<rect x="455.13" y="286.60" width="2.30" height="3.40" fill="#5f6b77" />
<rect x="458.91" y="246.30" width="2.30" height="1.50" fill="#167a4e" />
<rect x="458.91" y="252.00" width="2.30" height="9.00" fill="#0a8c60" />
<rect x="458.91" y="265.70" width="2.30" height="9.10" fill="#0a8c60" />
<rect x="458.91" y="283.60" width="2.30" height="9.40" fill="#d6d6d6" />
<rect x="458.91" y="286.60" width="2.30" height="3.40" fill="#46b02a" />
<rect x="462.69" y="246.30" width="2.30" height="1.50" fill="#167a4e" />
<rect x="462.69" y="252.00" width="2.30" height="9.00" fill="#0a8c60" />
<rect x="462.69" y="265.70" width="2.30" height="9.10" fill="#0a8c60" />
<rect x="462.69" y="283.60" width="2.30" height="9.40" fill="#d6d6d6" />
<rect x="462.69" y="286.60" width="2.30" height="3.40" fill="#46b02a" />
<rect x="466.47" y="246.30" width="2.30" height="1.50" fill="#167a4e" />
<rect x="466.47" y="252.00" width="2.30" height="9.00" fill="#0a8c60" />
<rect x="466.47" y="265.70" width="2.30" height="9.10" fill="#0a8c60" />
<rect x="466.47" y="283.60" width="2.30" height="9.40" fill="#d6d6d6" />
<rect x="466.47" y="286.60" width="2.30" height="3.40" fill="#46b02a" />
<rect x="470.25" y="246.30" width="2.30" height="1.50" fill="#167a4e" />
<rect x="470.25" y="252.00" width="2.30" height="9.00" fill="#0a8c60" />
<rect x="470.25" y="265.70" width="2.30" height="9.10" fill="#0a8c60" />
<rect x="470.25" y="283.60" width="2.30" height="9.40" fill="#d6d6d6" />
<rect x="470.25" y="286.60" width="2.30" height="3.40" fill="#46b02a" />
<rect x="474.03" y="246.30" width="2.30" height="1.50" fill="#167a4e" />
<rect x="474.03" y="252.00" width="2.30" height="9.00" fill="#0a8c60" />
<rect x="474.03" y="265.70" width="2.30" height="9.10" fill="#0a8c60" />
<rect x="474.03" y="283.60" width="2.30" height="9.40" fill="#d6d6d6" />
<rect x="474.03" y="286.60" width="2.30" height="3.40" fill="#46b02a" />
<rect x="477.81" y="246.30" width="2.30" height="1.50" fill="#167a4e" />
<rect x="477.81" y="252.00" width="2.30" height="9.00" fill="#0a8c60" />
<rect x="477.81" y="265.70" width="2.30" height="9.10" fill="#0a8c60" />
<rect x="477.81" y="283.60" width="2.30" height="9.40" fill="#d6d6d6" />
<rect x="477.81" y="286.60" width="2.30" height="3.40" fill="#46b02a" />
<rect x="481.59" y="246.30" width="2.30" height="1.50" fill="#167a4e" />
<rect x="481.59" y="252.00" width="2.30" height="9.00" fill="#0a8c60" />
<rect x="481.59" y="265.70" width="2.30" height="9.10" fill="#0a8c60" />
<rect x="481.59" y="283.60" width="2.30" height="9.40" fill="#d6d6d6" />
<rect x="481.59" y="286.60" width="2.30" height="3.40" fill="#46b02a" />
<rect x="485.37" y="246.30" width="2.30" height="1.50" fill="#167a4e" />
<rect x="485.37" y="252.00" width="2.30" height="9.00" fill="#0a8c60" />
<rect x="485.37" y="265.70" width="2.30" height="9.10" fill="#0a8c60" />
<rect x="485.37" y="283.60" width="2.30" height="9.40" fill="#d6d6d6" />
<rect x="485.37" y="286.60" width="2.30" height="3.40" fill="#46b02a" />
<rect x="489.15" y="246.30" width="2.30" height="1.50" fill="#167a4e" />
<rect x="489.15" y="252.00" width="2.30" height="9.00" fill="#0a8c60" />
<rect x="489.15" y="265.70" width="2.30" height="9.10" fill="#0a8c60" />
<rect x="489.15" y="283.60" width="2.30" height="9.40" fill="#d6d6d6" />
<rect x="489.15" y="286.60" width="2.30" height="3.40" fill="#46b02a" />
<rect x="492.93" y="246.30" width="2.30" height="1.50" fill="#167a4e" />
<rect x="492.93" y="252.00" width="2.30" height="9.00" fill="#0a8c60" />
<rect x="492.93" y="265.70" width="2.30" height="9.10" fill="#0a8c60" />
<rect x="492.93" y="283.60" width="2.30" height="9.40" fill="#d6d6d6" />
<rect x="492.93" y="286.60" width="2.30" height="3.40" fill="#46b02a" />
<rect x="496.71" y="245.50" width="2.30" height="2.30" fill="#236f3c" />
<rect x="496.71" y="252.00" width="2.30" height="9.00" fill="#0a8c60" />
<rect x="496.71" y="265.70" width="2.30" height="9.10" fill="#0a8c60" />
<rect x="496.71" y="283.60" width="2.30" height="9.40" fill="#d6d6d6" />
<rect x="496.71" y="286.60" width="2.30" height="3.40" fill="#46b02a" />
<rect x="500.49" y="246.30" width="2.30" height="1.50" fill="#167a4e" />
<rect x="500.49" y="252.00" width="2.30" height="9.00" fill="#0a8c60" />
<rect x="500.49" y="265.70" width="2.30" height="9.10" fill="#0a8c60" />
<rect x="500.49" y="283.60" width="2.30" height="9.40" fill="#d6d6d6" />
<rect x="500.49" y="286.60" width="2.30" height="3.40" fill="#46b02a" />
<rect x="504.27" y="246.30" width="2.30" height="1.50" fill="#167a4e" />
<rect x="504.27" y="252.00" width="2.30" height="9.00" fill="#0a8c60" />
<rect x="504.27" y="265.70" width="2.30" height="9.10" fill="#0a8c60" />
<rect x="504.27" y="283.60" width="2.30" height="9.40" fill="#d6d6d6" />
<rect x="508.05" y="246.30" width="2.30" height="1.50" fill="#167a4e" />
<rect x="508.05" y="252.00" width="2.30" height="9.00" fill="#0a8c60" />
<rect x="508.05" y="265.70" width="2.30" height="9.10" fill="#0a8c60" />
<rect x="508.05" y="283.60" width="2.30" height="9.40" fill="#d6d6d6" />
<rect x="511.83" y="246.30" width="2.30" height="1.50" fill="#167a4e" />
<rect x="511.83" y="252.00" width="2.30" height="9.00" fill="#0a8c60" />
<rect x="511.83" y="265.70" width="2.30" height="9.10" fill="#0a8c60" />
<rect x="511.83" y="283.60" width="2.30" height="9.40" fill="#d6d6d6" />
<rect x="515.61" y="246.30" width="2.30" height="1.50" fill="#167a4e" />
<rect x="515.61" y="252.00" width="2.30" height="9.00" fill="#0a8c60" />
<rect x="515.61" y="265.70" width="2.30" height="9.10" fill="#0a8c60" />
<rect x="515.61" y="283.60" width="2.30" height="9.40" fill="#d6d6d6" />
<rect x="519.39" y="246.30" width="2.30" height="1.50" fill="#167a4e" />
<rect x="519.39" y="252.00" width="2.30" height="9.00" fill="#0a8c60" />
<rect x="519.39" y="265.70" width="2.30" height="9.10" fill="#0a8c60" />
<rect x="519.39" y="283.60" width="2.30" height="9.40" fill="#d6d6d6" />
<rect x="523.17" y="246.30" width="2.30" height="1.50" fill="#167a4e" />
<rect x="523.17" y="252.00" width="2.30" height="9.00" fill="#0a8c60" />
<rect x="523.17" y="265.70" width="2.30" height="9.10" fill="#0a8c60" />
<rect x="523.17" y="283.60" width="2.30" height="9.40" fill="#d6d6d6" />
<rect x="526.95" y="246.30" width="2.30" height="1.50" fill="#167a4e" />
<rect x="526.95" y="252.00" width="2.30" height="9.00" fill="#0a8c60" />
<rect x="526.95" y="265.70" width="2.30" height="9.10" fill="#0a8c60" />
<rect x="526.95" y="283.60" width="2.30" height="9.40" fill="#d6d6d6" />
<rect x="530.73" y="246.30" width="2.30" height="1.50" fill="#167a4e" />
<rect x="530.73" y="252.00" width="2.30" height="9.00" fill="#0a8c60" />
<rect x="530.73" y="265.70" width="2.30" height="9.10" fill="#0a8c60" />
<rect x="530.73" y="283.60" width="2.30" height="9.40" fill="#d6d6d6" />
<rect x="534.51" y="246.30" width="2.30" height="1.50" fill="#167a4e" />
<rect x="534.51" y="252.00" width="2.30" height="9.00" fill="#0a8c60" />
<rect x="534.51" y="265.70" width="2.30" height="9.10" fill="#0a8c60" />
<rect x="534.51" y="283.60" width="2.30" height="9.40" fill="#d6d6d6" />
<rect x="538.29" y="246.30" width="2.30" height="1.50" fill="#167a4e" />
<rect x="538.29" y="252.00" width="2.30" height="9.00" fill="#0a8c60" />
<rect x="538.29" y="265.70" width="2.30" height="9.10" fill="#0a8c60" />
<rect x="538.29" y="283.60" width="2.30" height="9.40" fill="#d6d6d6" />
<rect x="542.07" y="246.30" width="2.30" height="1.50" fill="#167a4e" />
<rect x="542.07" y="252.00" width="2.30" height="9.00" fill="#0a8c60" />
<rect x="542.07" y="265.70" width="2.30" height="9.10" fill="#0a8c60" />
<rect x="542.07" y="283.60" width="2.30" height="9.40" fill="#d6d6d6" />
<rect x="545.85" y="246.30" width="1.20" height="1.50" fill="#167a4e"  opacity="0.35"/>
<rect x="545.85" y="252.00" width="1.20" height="9.00" fill="#0a8c60"  opacity="0.35"/>
<rect x="545.85" y="265.70" width="1.20" height="9.10" fill="#0a8c60"  opacity="0.35"/>
<rect x="545.85" y="283.60" width="1.20" height="9.40" fill="#d6d6d6"  opacity="0.35"/>
<text x="9.9" y="307.0" font-size="5.0" fill="#363636" text-anchor="start" font-weight="bold" >Genetic Alteration</text>
<rect x="97.70" y="301.60" width="2.50" height="8.00" fill="#dcdcdc" />
<rect x="97.70" y="304.20" width="2.50" height="3.60" fill="#46b02a" />
<text x="102.0" y="308.3" font-size="4.94" fill="#333" text-anchor="start" stroke="#333" stroke-width="0.12" >Missense Mutation (unknown significance)</text>
<rect x="205.40" y="301.60" width="2.50" height="8.00" fill="#dcdcdc" />
<rect x="205.40" y="304.20" width="2.50" height="3.60" fill="#5f6b77" />
<text x="209.8" y="308.3" font-size="4.94" fill="#333" text-anchor="start" stroke="#333" stroke-width="0.12" >Truncating Mutation (unknown significance)</text>
<rect x="315.70" y="301.80" width="2.40" height="8.00" fill="#e4161c" />
<text x="320.5" y="308.3" font-size="4.94" fill="#333" text-anchor="start" stroke="#333" stroke-width="0.12" >Amplification</text>
<rect x="357.10" y="301.80" width="2.40" height="8.00" fill="#1d3f99" />
<text x="362.2" y="308.3" font-size="4.94" fill="#333" text-anchor="start" stroke="#333" stroke-width="0.12" >Deep Deletion</text>
<rect x="401.90" y="301.80" width="2.40" height="8.00" fill="#d6d6d6" />
<text x="406.9" y="308.3" font-size="4.94" fill="#333" text-anchor="start" stroke="#333" stroke-width="0.12" >No alterations</text>
<text x="9.9" y="328.0" font-size="5.0" fill="#363636" text-anchor="start" font-weight="bold" ># Samples per Patient</text>
<text x="98.4" y="328.2" font-size="4.9" fill="#333" text-anchor="start" stroke="#333" stroke-width="0.12" >0</text>
<polygon points="100.3,331.4 117,322.6 117,331.4" fill="#1f7a3a"/>
<text x="119.0" y="328.2" font-size="4.9" fill="#333" text-anchor="start" stroke="#333" stroke-width="0.12" >10</text>
<text x="9.9" y="348.3" font-size="5.0" fill="#363636" text-anchor="start" font-weight="bold" >Profiled in Consensus putative</text>
<text x="9.9" y="354.2" font-size="5.0" fill="#363636" text-anchor="start" font-weight="bold" >gene level copy-number calls.</text>
<rect x="97.90" y="343.80" width="2.50" height="8.00" fill="#0a8c60" />
<text x="103.0" y="350.3" font-size="4.9" fill="#333" text-anchor="start" stroke="#333" stroke-width="0.12" >Yes</text>
<text x="9.9" y="373.2" font-size="5.0" fill="#363636" text-anchor="start" font-weight="bold" >Profiled in Mutations</text>
<rect x="97.80" y="368.10" width="2.30" height="7.20" fill="#0a8c60" />
<text x="103.0" y="374.8" font-size="4.9" fill="#333" text-anchor="start" stroke="#333" stroke-width="0.12" >Yes</text>
<rect x="120.60" y="371.50" width="0.80" height="0.80" fill="#cccccc" />
<text x="123.8" y="374.8" font-size="4.9" fill="#333" text-anchor="start" stroke="#333" stroke-width="0.12" >No</text>
</svg>
</body></html>
